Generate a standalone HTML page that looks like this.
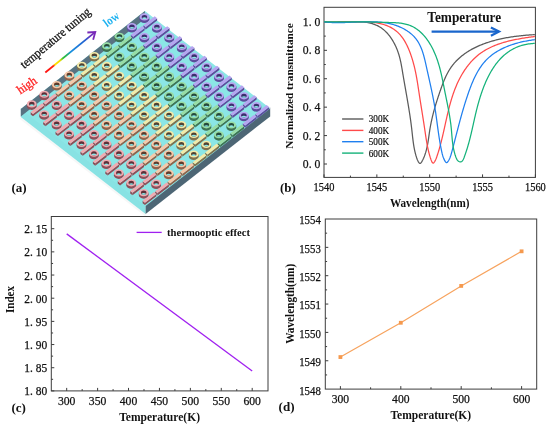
<!DOCTYPE html>
<html><head><meta charset="utf-8"><title>Figure</title>
<style>html,body{margin:0;padding:0;background:#fff;}svg{display:block;}</style></head>
<body><svg width="550" height="428" viewBox="0 0 550 428">
<rect width="550" height="428" fill="#fff"/>
<polygon points="20.8,116.9 145.6,214 145.6,216.5 19.8,118.9" fill="#f6f7f7"/>
<polygon points="20.8,108.1 145.6,205.2 145.6,214 20.8,116.9" fill="#88e2e3"/>
<polygon points="145.6,205.2 270.2,107.6 270.2,116.4 145.6,214" fill="#4d6675"/>
<polygon points="20.8,108.9 144.9,11 270.2,108.4 145.6,206" fill="#8be6e6"/>
<polygon points="20.8,108.9 144.9,11 144.9,18.8 20.8,116.5" fill="#587281"/>
<defs>
<clipPath id="h90"><ellipse cx="144.44" cy="16.94" rx="2.75" ry="2.05"/></clipPath><clipPath id="h80"><ellipse cx="131.92" cy="26.6" rx="2.75" ry="2.05"/></clipPath><clipPath id="h91"><ellipse cx="156.88" cy="26.8" rx="2.75" ry="2.05"/></clipPath><clipPath id="h70"><ellipse cx="119.4" cy="36.26" rx="2.75" ry="2.05"/></clipPath><clipPath id="h81"><ellipse cx="144.36" cy="36.46" rx="2.75" ry="2.05"/></clipPath><clipPath id="h92"><ellipse cx="169.32" cy="36.66" rx="2.75" ry="2.05"/></clipPath><clipPath id="h60"><ellipse cx="106.88" cy="45.93" rx="2.75" ry="2.05"/></clipPath><clipPath id="h71"><ellipse cx="131.84" cy="46.12" rx="2.75" ry="2.05"/></clipPath><clipPath id="h82"><ellipse cx="156.8" cy="46.32" rx="2.75" ry="2.05"/></clipPath><clipPath id="h93"><ellipse cx="181.76" cy="46.52" rx="2.75" ry="2.05"/></clipPath><clipPath id="h50"><ellipse cx="94.35" cy="55.59" rx="2.75" ry="2.05"/></clipPath><clipPath id="h61"><ellipse cx="119.31" cy="55.79" rx="2.75" ry="2.05"/></clipPath><clipPath id="h72"><ellipse cx="144.27" cy="55.98" rx="2.75" ry="2.05"/></clipPath><clipPath id="h83"><ellipse cx="169.24" cy="56.18" rx="2.75" ry="2.05"/></clipPath><clipPath id="h94"><ellipse cx="194.2" cy="56.38" rx="2.75" ry="2.05"/></clipPath><clipPath id="h40"><ellipse cx="81.83" cy="65.25" rx="2.75" ry="2.05"/></clipPath><clipPath id="h51"><ellipse cx="106.79" cy="65.45" rx="2.75" ry="2.05"/></clipPath><clipPath id="h62"><ellipse cx="131.75" cy="65.65" rx="2.75" ry="2.05"/></clipPath><clipPath id="h73"><ellipse cx="156.71" cy="65.84" rx="2.75" ry="2.05"/></clipPath><clipPath id="h84"><ellipse cx="181.67" cy="66.04" rx="2.75" ry="2.05"/></clipPath><clipPath id="h95"><ellipse cx="206.63" cy="66.24" rx="2.75" ry="2.05"/></clipPath><clipPath id="h30"><ellipse cx="69.31" cy="74.91" rx="2.75" ry="2.05"/></clipPath><clipPath id="h41"><ellipse cx="94.27" cy="75.11" rx="2.75" ry="2.05"/></clipPath><clipPath id="h52"><ellipse cx="119.23" cy="75.31" rx="2.75" ry="2.05"/></clipPath><clipPath id="h63"><ellipse cx="144.19" cy="75.51" rx="2.75" ry="2.05"/></clipPath><clipPath id="h74"><ellipse cx="169.15" cy="75.71" rx="2.75" ry="2.05"/></clipPath><clipPath id="h85"><ellipse cx="194.11" cy="75.9" rx="2.75" ry="2.05"/></clipPath><clipPath id="h96"><ellipse cx="219.07" cy="76.1" rx="2.75" ry="2.05"/></clipPath><clipPath id="h20"><ellipse cx="56.79" cy="84.58" rx="2.75" ry="2.05"/></clipPath><clipPath id="h31"><ellipse cx="81.75" cy="84.77" rx="2.75" ry="2.05"/></clipPath><clipPath id="h42"><ellipse cx="106.71" cy="84.97" rx="2.75" ry="2.05"/></clipPath><clipPath id="h53"><ellipse cx="131.67" cy="85.17" rx="2.75" ry="2.05"/></clipPath><clipPath id="h64"><ellipse cx="156.63" cy="85.37" rx="2.75" ry="2.05"/></clipPath><clipPath id="h75"><ellipse cx="181.59" cy="85.57" rx="2.75" ry="2.05"/></clipPath><clipPath id="h86"><ellipse cx="206.55" cy="85.76" rx="2.75" ry="2.05"/></clipPath><clipPath id="h97"><ellipse cx="231.51" cy="85.96" rx="2.75" ry="2.05"/></clipPath><clipPath id="h10"><ellipse cx="44.26" cy="94.24" rx="2.75" ry="2.05"/></clipPath><clipPath id="h21"><ellipse cx="69.22" cy="94.44" rx="2.75" ry="2.05"/></clipPath><clipPath id="h32"><ellipse cx="94.18" cy="94.63" rx="2.75" ry="2.05"/></clipPath><clipPath id="h43"><ellipse cx="119.14" cy="94.83" rx="2.75" ry="2.05"/></clipPath><clipPath id="h54"><ellipse cx="144.11" cy="95.03" rx="2.75" ry="2.05"/></clipPath><clipPath id="h65"><ellipse cx="169.07" cy="95.23" rx="2.75" ry="2.05"/></clipPath><clipPath id="h76"><ellipse cx="194.03" cy="95.43" rx="2.75" ry="2.05"/></clipPath><clipPath id="h87"><ellipse cx="218.99" cy="95.62" rx="2.75" ry="2.05"/></clipPath><clipPath id="h98"><ellipse cx="243.95" cy="95.82" rx="2.75" ry="2.05"/></clipPath><clipPath id="h00"><ellipse cx="31.74" cy="103.9" rx="2.75" ry="2.05"/></clipPath><clipPath id="h11"><ellipse cx="56.7" cy="104.1" rx="2.75" ry="2.05"/></clipPath><clipPath id="h22"><ellipse cx="81.66" cy="104.3" rx="2.75" ry="2.05"/></clipPath><clipPath id="h33"><ellipse cx="106.62" cy="104.49" rx="2.75" ry="2.05"/></clipPath><clipPath id="h44"><ellipse cx="131.58" cy="104.69" rx="2.75" ry="2.05"/></clipPath><clipPath id="h55"><ellipse cx="156.54" cy="104.89" rx="2.75" ry="2.05"/></clipPath><clipPath id="h66"><ellipse cx="181.5" cy="105.09" rx="2.75" ry="2.05"/></clipPath><clipPath id="h77"><ellipse cx="206.46" cy="105.29" rx="2.75" ry="2.05"/></clipPath><clipPath id="h88"><ellipse cx="231.42" cy="105.48" rx="2.75" ry="2.05"/></clipPath><clipPath id="h99"><ellipse cx="256.39" cy="105.68" rx="2.75" ry="2.05"/></clipPath><clipPath id="h01"><ellipse cx="44.18" cy="113.76" rx="2.75" ry="2.05"/></clipPath><clipPath id="h12"><ellipse cx="69.14" cy="113.96" rx="2.75" ry="2.05"/></clipPath><clipPath id="h23"><ellipse cx="94.1" cy="114.16" rx="2.75" ry="2.05"/></clipPath><clipPath id="h34"><ellipse cx="119.06" cy="114.35" rx="2.75" ry="2.05"/></clipPath><clipPath id="h45"><ellipse cx="144.02" cy="114.55" rx="2.75" ry="2.05"/></clipPath><clipPath id="h56"><ellipse cx="168.98" cy="114.75" rx="2.75" ry="2.05"/></clipPath><clipPath id="h67"><ellipse cx="193.94" cy="114.95" rx="2.75" ry="2.05"/></clipPath><clipPath id="h78"><ellipse cx="218.9" cy="115.15" rx="2.75" ry="2.05"/></clipPath><clipPath id="h89"><ellipse cx="243.86" cy="115.35" rx="2.75" ry="2.05"/></clipPath><clipPath id="h02"><ellipse cx="56.62" cy="123.62" rx="2.75" ry="2.05"/></clipPath><clipPath id="h13"><ellipse cx="81.58" cy="123.82" rx="2.75" ry="2.05"/></clipPath><clipPath id="h24"><ellipse cx="106.54" cy="124.02" rx="2.75" ry="2.05"/></clipPath><clipPath id="h35"><ellipse cx="131.5" cy="124.22" rx="2.75" ry="2.05"/></clipPath><clipPath id="h46"><ellipse cx="156.46" cy="124.41" rx="2.75" ry="2.05"/></clipPath><clipPath id="h57"><ellipse cx="181.42" cy="124.61" rx="2.75" ry="2.05"/></clipPath><clipPath id="h68"><ellipse cx="206.38" cy="124.81" rx="2.75" ry="2.05"/></clipPath><clipPath id="h79"><ellipse cx="231.34" cy="125.01" rx="2.75" ry="2.05"/></clipPath><clipPath id="h03"><ellipse cx="69.05" cy="133.48" rx="2.75" ry="2.05"/></clipPath><clipPath id="h14"><ellipse cx="94.01" cy="133.68" rx="2.75" ry="2.05"/></clipPath><clipPath id="h25"><ellipse cx="118.97" cy="133.88" rx="2.75" ry="2.05"/></clipPath><clipPath id="h36"><ellipse cx="143.94" cy="134.08" rx="2.75" ry="2.05"/></clipPath><clipPath id="h47"><ellipse cx="168.9" cy="134.27" rx="2.75" ry="2.05"/></clipPath><clipPath id="h58"><ellipse cx="193.86" cy="134.47" rx="2.75" ry="2.05"/></clipPath><clipPath id="h69"><ellipse cx="218.82" cy="134.67" rx="2.75" ry="2.05"/></clipPath><clipPath id="h04"><ellipse cx="81.49" cy="143.34" rx="2.75" ry="2.05"/></clipPath><clipPath id="h15"><ellipse cx="106.45" cy="143.54" rx="2.75" ry="2.05"/></clipPath><clipPath id="h26"><ellipse cx="131.41" cy="143.74" rx="2.75" ry="2.05"/></clipPath><clipPath id="h37"><ellipse cx="156.37" cy="143.94" rx="2.75" ry="2.05"/></clipPath><clipPath id="h48"><ellipse cx="181.33" cy="144.13" rx="2.75" ry="2.05"/></clipPath><clipPath id="h59"><ellipse cx="206.29" cy="144.33" rx="2.75" ry="2.05"/></clipPath><clipPath id="h05"><ellipse cx="93.93" cy="153.2" rx="2.75" ry="2.05"/></clipPath><clipPath id="h16"><ellipse cx="118.89" cy="153.4" rx="2.75" ry="2.05"/></clipPath><clipPath id="h27"><ellipse cx="143.85" cy="153.6" rx="2.75" ry="2.05"/></clipPath><clipPath id="h38"><ellipse cx="168.81" cy="153.8" rx="2.75" ry="2.05"/></clipPath><clipPath id="h49"><ellipse cx="193.77" cy="153.99" rx="2.75" ry="2.05"/></clipPath><clipPath id="h06"><ellipse cx="106.37" cy="163.06" rx="2.75" ry="2.05"/></clipPath><clipPath id="h17"><ellipse cx="131.33" cy="163.26" rx="2.75" ry="2.05"/></clipPath><clipPath id="h28"><ellipse cx="156.29" cy="163.46" rx="2.75" ry="2.05"/></clipPath><clipPath id="h39"><ellipse cx="181.25" cy="163.66" rx="2.75" ry="2.05"/></clipPath><clipPath id="h07"><ellipse cx="118.81" cy="172.92" rx="2.75" ry="2.05"/></clipPath><clipPath id="h18"><ellipse cx="143.77" cy="173.12" rx="2.75" ry="2.05"/></clipPath><clipPath id="h29"><ellipse cx="168.73" cy="173.32" rx="2.75" ry="2.05"/></clipPath><clipPath id="h08"><ellipse cx="131.24" cy="182.78" rx="2.75" ry="2.05"/></clipPath><clipPath id="h19"><ellipse cx="156.2" cy="182.98" rx="2.75" ry="2.05"/></clipPath><clipPath id="h09"><ellipse cx="143.68" cy="192.64" rx="2.75" ry="2.05"/></clipPath>
</defs>
<ellipse cx="144.44" cy="19.34" rx="4.85" ry="3.6" fill="#5d4c9c"/><rect x="139.59" y="16.94" width="9.7" height="2.4" fill="#5d4c9c"/><ellipse cx="144.44" cy="16.94" rx="4.85" ry="3.6" fill="#b6a4f0"/><ellipse cx="144.44" cy="16.94" rx="2.75" ry="2.05" fill="#3b2f6c"/><ellipse clip-path="url(#h90)" cx="144.44" cy="19.34" rx="2.75" ry="2.05" fill="#8be6e6"/>
<polygon points="145.73,27.01 157.12,18.22 157.12,20.62 145.73,29.41" fill="#5d4c9c"/>
<polygon points="143.36,25.14 145.73,27.01 145.73,29.41 143.36,27.54" fill="#5d4c9c"/>
<polygon points="143.36,25.14 154.76,16.34 157.12,18.22 145.73,27.01" fill="#b6a4f0"/>
<ellipse cx="131.92" cy="29" rx="4.85" ry="3.6" fill="#5d4c9c"/><rect x="127.07" y="26.6" width="9.7" height="2.4" fill="#5d4c9c"/><ellipse cx="131.92" cy="26.6" rx="4.85" ry="3.6" fill="#b6a4f0"/><ellipse cx="131.92" cy="26.6" rx="2.75" ry="2.05" fill="#3b2f6c"/><ellipse clip-path="url(#h80)" cx="131.92" cy="29" rx="2.75" ry="2.05" fill="#8be6e6"/>
<ellipse cx="156.88" cy="29.2" rx="4.85" ry="3.6" fill="#5d4c9c"/><rect x="152.03" y="26.8" width="9.7" height="2.4" fill="#5d4c9c"/><ellipse cx="156.88" cy="26.8" rx="4.85" ry="3.6" fill="#b6a4f0"/><ellipse cx="156.88" cy="26.8" rx="2.75" ry="2.05" fill="#3b2f6c"/><ellipse clip-path="url(#h91)" cx="156.88" cy="29.2" rx="2.75" ry="2.05" fill="#8be6e6"/>
<polygon points="133.2,36.67 144.6,27.88 144.6,30.28 133.2,39.07" fill="#5d4c9c"/>
<polygon points="130.84,34.8 133.2,36.67 133.2,39.07 130.84,37.2" fill="#5d4c9c"/>
<polygon points="130.84,34.8 142.23,26 144.6,27.88 133.2,36.67" fill="#b6a4f0"/>
<polygon points="158.16,36.87 169.56,28.08 169.56,30.48 158.16,39.27" fill="#5d4c9c"/>
<polygon points="155.8,35 158.16,36.87 158.16,39.27 155.8,37.4" fill="#5d4c9c"/>
<polygon points="155.8,35 167.2,26.2 169.56,28.08 158.16,36.87" fill="#b6a4f0"/>
<ellipse cx="119.4" cy="38.66" rx="4.85" ry="3.6" fill="#3f7453"/><rect x="114.55" y="36.26" width="9.7" height="2.4" fill="#3f7453"/><ellipse cx="119.4" cy="36.26" rx="4.85" ry="3.6" fill="#98dda5"/><ellipse cx="119.4" cy="36.26" rx="2.75" ry="2.05" fill="#264a3b"/><ellipse clip-path="url(#h70)" cx="119.4" cy="38.66" rx="2.75" ry="2.05" fill="#8be6e6"/>
<ellipse cx="144.36" cy="38.86" rx="4.85" ry="3.6" fill="#5d4c9c"/><rect x="139.51" y="36.46" width="9.7" height="2.4" fill="#5d4c9c"/><ellipse cx="144.36" cy="36.46" rx="4.85" ry="3.6" fill="#b6a4f0"/><ellipse cx="144.36" cy="36.46" rx="2.75" ry="2.05" fill="#3b2f6c"/><ellipse clip-path="url(#h81)" cx="144.36" cy="38.86" rx="2.75" ry="2.05" fill="#8be6e6"/>
<ellipse cx="169.32" cy="39.06" rx="4.85" ry="3.6" fill="#5d4c9c"/><rect x="164.47" y="36.66" width="9.7" height="2.4" fill="#5d4c9c"/><ellipse cx="169.32" cy="36.66" rx="4.85" ry="3.6" fill="#b6a4f0"/><ellipse cx="169.32" cy="36.66" rx="2.75" ry="2.05" fill="#3b2f6c"/><ellipse clip-path="url(#h92)" cx="169.32" cy="39.06" rx="2.75" ry="2.05" fill="#8be6e6"/>
<polygon points="120.68,46.33 132.08,37.54 132.08,39.94 120.68,48.73" fill="#3f7453"/>
<polygon points="118.32,44.46 120.68,46.33 120.68,48.73 118.32,46.86" fill="#3f7453"/>
<polygon points="118.32,44.46 129.71,35.67 132.08,37.54 120.68,46.33" fill="#98dda5"/>
<polygon points="145.64,46.53 157.04,37.74 157.04,40.14 145.64,48.93" fill="#5d4c9c"/>
<polygon points="143.28,44.66 145.64,46.53 145.64,48.93 143.28,47.06" fill="#5d4c9c"/>
<polygon points="143.28,44.66 154.67,35.87 157.04,37.74 145.64,46.53" fill="#b6a4f0"/>
<polygon points="170.6,46.73 182,37.94 182,40.34 170.6,49.13" fill="#5d4c9c"/>
<polygon points="168.24,44.86 170.6,46.73 170.6,49.13 168.24,47.26" fill="#5d4c9c"/>
<polygon points="168.24,44.86 179.63,36.06 182,37.94 170.6,46.73" fill="#b6a4f0"/>
<ellipse cx="106.88" cy="48.33" rx="4.85" ry="3.6" fill="#3f7453"/><rect x="102.03" y="45.93" width="9.7" height="2.4" fill="#3f7453"/><ellipse cx="106.88" cy="45.93" rx="4.85" ry="3.6" fill="#98dda5"/><ellipse cx="106.88" cy="45.93" rx="2.75" ry="2.05" fill="#264a3b"/><ellipse clip-path="url(#h60)" cx="106.88" cy="48.33" rx="2.75" ry="2.05" fill="#8be6e6"/>
<ellipse cx="131.84" cy="48.52" rx="4.85" ry="3.6" fill="#3f7453"/><rect x="126.99" y="46.12" width="9.7" height="2.4" fill="#3f7453"/><ellipse cx="131.84" cy="46.12" rx="4.85" ry="3.6" fill="#98dda5"/><ellipse cx="131.84" cy="46.12" rx="2.75" ry="2.05" fill="#264a3b"/><ellipse clip-path="url(#h71)" cx="131.84" cy="48.52" rx="2.75" ry="2.05" fill="#8be6e6"/>
<ellipse cx="156.8" cy="48.72" rx="4.85" ry="3.6" fill="#5d4c9c"/><rect x="151.95" y="46.32" width="9.7" height="2.4" fill="#5d4c9c"/><ellipse cx="156.8" cy="46.32" rx="4.85" ry="3.6" fill="#b6a4f0"/><ellipse cx="156.8" cy="46.32" rx="2.75" ry="2.05" fill="#3b2f6c"/><ellipse clip-path="url(#h82)" cx="156.8" cy="48.72" rx="2.75" ry="2.05" fill="#8be6e6"/>
<ellipse cx="181.76" cy="48.92" rx="4.85" ry="3.6" fill="#5d4c9c"/><rect x="176.91" y="46.52" width="9.7" height="2.4" fill="#5d4c9c"/><ellipse cx="181.76" cy="46.52" rx="4.85" ry="3.6" fill="#b6a4f0"/><ellipse cx="181.76" cy="46.52" rx="2.75" ry="2.05" fill="#3b2f6c"/><ellipse clip-path="url(#h93)" cx="181.76" cy="48.92" rx="2.75" ry="2.05" fill="#8be6e6"/>
<polygon points="108.16,56 119.55,47.2 119.55,49.6 108.16,58.4" fill="#3f7453"/>
<polygon points="105.79,54.12 108.16,56 108.16,58.4 105.79,56.52" fill="#3f7453"/>
<polygon points="105.79,54.12 117.19,45.33 119.55,47.2 108.16,56" fill="#98dda5"/>
<polygon points="133.12,56.19 144.51,47.4 144.51,49.8 133.12,58.59" fill="#3f7453"/>
<polygon points="130.75,54.32 133.12,56.19 133.12,58.59 130.75,56.72" fill="#3f7453"/>
<polygon points="130.75,54.32 142.15,45.53 144.51,47.4 133.12,56.19" fill="#98dda5"/>
<polygon points="158.08,56.39 169.47,47.6 169.47,50 158.08,58.79" fill="#5d4c9c"/>
<polygon points="155.72,54.52 158.08,56.39 158.08,58.79 155.72,56.92" fill="#5d4c9c"/>
<polygon points="155.72,54.52 167.11,45.73 169.47,47.6 158.08,56.39" fill="#b6a4f0"/>
<polygon points="183.04,56.59 194.43,47.8 194.43,50.2 183.04,58.99" fill="#5d4c9c"/>
<polygon points="180.68,54.72 183.04,56.59 183.04,58.99 180.68,57.12" fill="#5d4c9c"/>
<polygon points="180.68,54.72 192.07,45.92 194.43,47.8 183.04,56.59" fill="#b6a4f0"/>
<ellipse cx="94.35" cy="57.99" rx="4.85" ry="3.6" fill="#80704c"/><rect x="89.5" y="55.59" width="9.7" height="2.4" fill="#80704c"/><ellipse cx="94.35" cy="55.59" rx="4.85" ry="3.6" fill="#f3eaa9"/><ellipse cx="94.35" cy="55.59" rx="2.75" ry="2.05" fill="#504232"/><ellipse clip-path="url(#h50)" cx="94.35" cy="57.99" rx="2.75" ry="2.05" fill="#8be6e6"/>
<ellipse cx="119.31" cy="58.19" rx="4.85" ry="3.6" fill="#3f7453"/><rect x="114.46" y="55.79" width="9.7" height="2.4" fill="#3f7453"/><ellipse cx="119.31" cy="55.79" rx="4.85" ry="3.6" fill="#98dda5"/><ellipse cx="119.31" cy="55.79" rx="2.75" ry="2.05" fill="#264a3b"/><ellipse clip-path="url(#h61)" cx="119.31" cy="58.19" rx="2.75" ry="2.05" fill="#8be6e6"/>
<ellipse cx="144.27" cy="58.38" rx="4.85" ry="3.6" fill="#3f7453"/><rect x="139.42" y="55.98" width="9.7" height="2.4" fill="#3f7453"/><ellipse cx="144.27" cy="55.98" rx="4.85" ry="3.6" fill="#98dda5"/><ellipse cx="144.27" cy="55.98" rx="2.75" ry="2.05" fill="#264a3b"/><ellipse clip-path="url(#h72)" cx="144.27" cy="58.38" rx="2.75" ry="2.05" fill="#8be6e6"/>
<ellipse cx="169.24" cy="58.58" rx="4.85" ry="3.6" fill="#5d4c9c"/><rect x="164.39" y="56.18" width="9.7" height="2.4" fill="#5d4c9c"/><ellipse cx="169.24" cy="56.18" rx="4.85" ry="3.6" fill="#b6a4f0"/><ellipse cx="169.24" cy="56.18" rx="2.75" ry="2.05" fill="#3b2f6c"/><ellipse clip-path="url(#h83)" cx="169.24" cy="58.58" rx="2.75" ry="2.05" fill="#8be6e6"/>
<ellipse cx="194.2" cy="58.78" rx="4.85" ry="3.6" fill="#5d4c9c"/><rect x="189.35" y="56.38" width="9.7" height="2.4" fill="#5d4c9c"/><ellipse cx="194.2" cy="56.38" rx="4.85" ry="3.6" fill="#b6a4f0"/><ellipse cx="194.2" cy="56.38" rx="2.75" ry="2.05" fill="#3b2f6c"/><ellipse clip-path="url(#h94)" cx="194.2" cy="58.78" rx="2.75" ry="2.05" fill="#8be6e6"/>
<polygon points="95.63,65.66 107.03,56.87 107.03,59.27 95.63,68.06" fill="#80704c"/>
<polygon points="93.27,63.78 95.63,65.66 95.63,68.06 93.27,66.18" fill="#80704c"/>
<polygon points="93.27,63.78 104.67,54.99 107.03,56.87 95.63,65.66" fill="#f3eaa9"/>
<polygon points="120.59,65.86 131.99,57.06 131.99,59.46 120.59,68.26" fill="#3f7453"/>
<polygon points="118.23,63.98 120.59,65.86 120.59,68.26 118.23,66.38" fill="#3f7453"/>
<polygon points="118.23,63.98 129.63,55.19 131.99,57.06 120.59,65.86" fill="#98dda5"/>
<polygon points="145.56,66.05 156.95,57.26 156.95,59.66 145.56,68.45" fill="#3f7453"/>
<polygon points="143.19,64.18 145.56,66.05 145.56,68.45 143.19,66.58" fill="#3f7453"/>
<polygon points="143.19,64.18 154.59,55.39 156.95,57.26 145.56,66.05" fill="#98dda5"/>
<polygon points="170.52,66.25 181.91,57.46 181.91,59.86 170.52,68.65" fill="#5d4c9c"/>
<polygon points="168.15,64.38 170.52,66.25 170.52,68.65 168.15,66.78" fill="#5d4c9c"/>
<polygon points="168.15,64.38 179.55,55.59 181.91,57.46 170.52,66.25" fill="#b6a4f0"/>
<polygon points="195.48,66.45 206.87,57.66 206.87,60.06 195.48,68.85" fill="#5d4c9c"/>
<polygon points="193.11,64.58 195.48,66.45 195.48,68.85 193.11,66.98" fill="#5d4c9c"/>
<polygon points="193.11,64.58 204.51,55.78 206.87,57.66 195.48,66.45" fill="#b6a4f0"/>
<ellipse cx="81.83" cy="67.65" rx="4.85" ry="3.6" fill="#80704c"/><rect x="76.98" y="65.25" width="9.7" height="2.4" fill="#80704c"/><ellipse cx="81.83" cy="65.25" rx="4.85" ry="3.6" fill="#f3eaa9"/><ellipse cx="81.83" cy="65.25" rx="2.75" ry="2.05" fill="#504232"/><ellipse clip-path="url(#h40)" cx="81.83" cy="67.65" rx="2.75" ry="2.05" fill="#8be6e6"/>
<ellipse cx="106.79" cy="67.85" rx="4.85" ry="3.6" fill="#80704c"/><rect x="101.94" y="65.45" width="9.7" height="2.4" fill="#80704c"/><ellipse cx="106.79" cy="65.45" rx="4.85" ry="3.6" fill="#f3eaa9"/><ellipse cx="106.79" cy="65.45" rx="2.75" ry="2.05" fill="#504232"/><ellipse clip-path="url(#h51)" cx="106.79" cy="67.85" rx="2.75" ry="2.05" fill="#8be6e6"/>
<ellipse cx="131.75" cy="68.05" rx="4.85" ry="3.6" fill="#3f7453"/><rect x="126.9" y="65.65" width="9.7" height="2.4" fill="#3f7453"/><ellipse cx="131.75" cy="65.65" rx="4.85" ry="3.6" fill="#98dda5"/><ellipse cx="131.75" cy="65.65" rx="2.75" ry="2.05" fill="#264a3b"/><ellipse clip-path="url(#h62)" cx="131.75" cy="68.05" rx="2.75" ry="2.05" fill="#8be6e6"/>
<ellipse cx="156.71" cy="68.24" rx="4.85" ry="3.6" fill="#3f7453"/><rect x="151.86" y="65.84" width="9.7" height="2.4" fill="#3f7453"/><ellipse cx="156.71" cy="65.84" rx="4.85" ry="3.6" fill="#98dda5"/><ellipse cx="156.71" cy="65.84" rx="2.75" ry="2.05" fill="#264a3b"/><ellipse clip-path="url(#h73)" cx="156.71" cy="68.24" rx="2.75" ry="2.05" fill="#8be6e6"/>
<ellipse cx="181.67" cy="68.44" rx="4.85" ry="3.6" fill="#5d4c9c"/><rect x="176.82" y="66.04" width="9.7" height="2.4" fill="#5d4c9c"/><ellipse cx="181.67" cy="66.04" rx="4.85" ry="3.6" fill="#b6a4f0"/><ellipse cx="181.67" cy="66.04" rx="2.75" ry="2.05" fill="#3b2f6c"/><ellipse clip-path="url(#h84)" cx="181.67" cy="68.44" rx="2.75" ry="2.05" fill="#8be6e6"/>
<ellipse cx="206.63" cy="68.64" rx="4.85" ry="3.6" fill="#5d4c9c"/><rect x="201.78" y="66.24" width="9.7" height="2.4" fill="#5d4c9c"/><ellipse cx="206.63" cy="66.24" rx="4.85" ry="3.6" fill="#b6a4f0"/><ellipse cx="206.63" cy="66.24" rx="2.75" ry="2.05" fill="#3b2f6c"/><ellipse clip-path="url(#h95)" cx="206.63" cy="68.64" rx="2.75" ry="2.05" fill="#8be6e6"/>
<polygon points="83.11,75.32 94.51,66.53 94.51,68.93 83.11,77.72" fill="#80704c"/>
<polygon points="80.75,73.45 83.11,75.32 83.11,77.72 80.75,75.85" fill="#80704c"/>
<polygon points="80.75,73.45 92.14,64.65 94.51,66.53 83.11,75.32" fill="#f3eaa9"/>
<polygon points="108.07,75.52 119.47,66.73 119.47,69.13 108.07,77.92" fill="#80704c"/>
<polygon points="105.71,73.65 108.07,75.52 108.07,77.92 105.71,76.05" fill="#80704c"/>
<polygon points="105.71,73.65 117.1,64.85 119.47,66.73 108.07,75.52" fill="#f3eaa9"/>
<polygon points="133.03,75.72 144.43,66.92 144.43,69.32 133.03,78.12" fill="#3f7453"/>
<polygon points="130.67,73.84 133.03,75.72 133.03,78.12 130.67,76.24" fill="#3f7453"/>
<polygon points="130.67,73.84 142.07,65.05 144.43,66.92 133.03,75.72" fill="#98dda5"/>
<polygon points="157.99,75.92 169.39,67.12 169.39,69.52 157.99,78.32" fill="#3f7453"/>
<polygon points="155.63,74.04 157.99,75.92 157.99,78.32 155.63,76.44" fill="#3f7453"/>
<polygon points="155.63,74.04 167.03,65.25 169.39,67.12 157.99,75.92" fill="#98dda5"/>
<polygon points="182.95,76.11 194.35,67.32 194.35,69.72 182.95,78.51" fill="#5d4c9c"/>
<polygon points="180.59,74.24 182.95,76.11 182.95,78.51 180.59,76.64" fill="#5d4c9c"/>
<polygon points="180.59,74.24 191.99,65.45 194.35,67.32 182.95,76.11" fill="#b6a4f0"/>
<polygon points="207.91,76.31 219.31,67.52 219.31,69.92 207.91,78.71" fill="#5d4c9c"/>
<polygon points="205.55,74.44 207.91,76.31 207.91,78.71 205.55,76.84" fill="#5d4c9c"/>
<polygon points="205.55,74.44 216.95,65.64 219.31,67.52 207.91,76.31" fill="#b6a4f0"/>
<ellipse cx="69.31" cy="77.31" rx="4.85" ry="3.6" fill="#91624a"/><rect x="64.46" y="74.91" width="9.7" height="2.4" fill="#91624a"/><ellipse cx="69.31" cy="74.91" rx="4.85" ry="3.6" fill="#f6c8a9"/><ellipse cx="69.31" cy="74.91" rx="2.75" ry="2.05" fill="#5e3c2c"/><ellipse clip-path="url(#h30)" cx="69.31" cy="77.31" rx="2.75" ry="2.05" fill="#8be6e6"/>
<ellipse cx="94.27" cy="77.51" rx="4.85" ry="3.6" fill="#80704c"/><rect x="89.42" y="75.11" width="9.7" height="2.4" fill="#80704c"/><ellipse cx="94.27" cy="75.11" rx="4.85" ry="3.6" fill="#f3eaa9"/><ellipse cx="94.27" cy="75.11" rx="2.75" ry="2.05" fill="#504232"/><ellipse clip-path="url(#h41)" cx="94.27" cy="77.51" rx="2.75" ry="2.05" fill="#8be6e6"/>
<ellipse cx="119.23" cy="77.71" rx="4.85" ry="3.6" fill="#80704c"/><rect x="114.38" y="75.31" width="9.7" height="2.4" fill="#80704c"/><ellipse cx="119.23" cy="75.31" rx="4.85" ry="3.6" fill="#f3eaa9"/><ellipse cx="119.23" cy="75.31" rx="2.75" ry="2.05" fill="#504232"/><ellipse clip-path="url(#h52)" cx="119.23" cy="77.71" rx="2.75" ry="2.05" fill="#8be6e6"/>
<ellipse cx="144.19" cy="77.91" rx="4.85" ry="3.6" fill="#3f7453"/><rect x="139.34" y="75.51" width="9.7" height="2.4" fill="#3f7453"/><ellipse cx="144.19" cy="75.51" rx="4.85" ry="3.6" fill="#98dda5"/><ellipse cx="144.19" cy="75.51" rx="2.75" ry="2.05" fill="#264a3b"/><ellipse clip-path="url(#h63)" cx="144.19" cy="77.91" rx="2.75" ry="2.05" fill="#8be6e6"/>
<ellipse cx="169.15" cy="78.11" rx="4.85" ry="3.6" fill="#3f7453"/><rect x="164.3" y="75.71" width="9.7" height="2.4" fill="#3f7453"/><ellipse cx="169.15" cy="75.71" rx="4.85" ry="3.6" fill="#98dda5"/><ellipse cx="169.15" cy="75.71" rx="2.75" ry="2.05" fill="#264a3b"/><ellipse clip-path="url(#h74)" cx="169.15" cy="78.11" rx="2.75" ry="2.05" fill="#8be6e6"/>
<ellipse cx="194.11" cy="78.3" rx="4.85" ry="3.6" fill="#5d4c9c"/><rect x="189.26" y="75.9" width="9.7" height="2.4" fill="#5d4c9c"/><ellipse cx="194.11" cy="75.9" rx="4.85" ry="3.6" fill="#b6a4f0"/><ellipse cx="194.11" cy="75.9" rx="2.75" ry="2.05" fill="#3b2f6c"/><ellipse clip-path="url(#h85)" cx="194.11" cy="78.3" rx="2.75" ry="2.05" fill="#8be6e6"/>
<ellipse cx="219.07" cy="78.5" rx="4.85" ry="3.6" fill="#5d4c9c"/><rect x="214.22" y="76.1" width="9.7" height="2.4" fill="#5d4c9c"/><ellipse cx="219.07" cy="76.1" rx="4.85" ry="3.6" fill="#b6a4f0"/><ellipse cx="219.07" cy="76.1" rx="2.75" ry="2.05" fill="#3b2f6c"/><ellipse clip-path="url(#h96)" cx="219.07" cy="78.5" rx="2.75" ry="2.05" fill="#8be6e6"/>
<polygon points="70.59,84.98 81.98,76.19 81.98,78.59 70.59,87.38" fill="#91624a"/>
<polygon points="68.23,83.11 70.59,84.98 70.59,87.38 68.23,85.51" fill="#91624a"/>
<polygon points="68.23,83.11 79.62,74.32 81.98,76.19 70.59,84.98" fill="#f6c8a9"/>
<polygon points="95.55,85.18 106.95,76.39 106.95,78.79 95.55,87.58" fill="#80704c"/>
<polygon points="93.19,83.31 95.55,85.18 95.55,87.58 93.19,85.71" fill="#80704c"/>
<polygon points="93.19,83.31 104.58,74.51 106.95,76.39 95.55,85.18" fill="#f3eaa9"/>
<polygon points="120.51,85.38 131.91,76.59 131.91,78.99 120.51,87.78" fill="#80704c"/>
<polygon points="118.15,83.51 120.51,85.38 120.51,87.78 118.15,85.91" fill="#80704c"/>
<polygon points="118.15,83.51 129.54,74.71 131.91,76.59 120.51,85.38" fill="#f3eaa9"/>
<polygon points="145.47,85.58 156.87,76.78 156.87,79.18 145.47,87.98" fill="#3f7453"/>
<polygon points="143.11,83.7 145.47,85.58 145.47,87.98 143.11,86.1" fill="#3f7453"/>
<polygon points="143.11,83.7 154.5,74.91 156.87,76.78 145.47,85.58" fill="#98dda5"/>
<polygon points="170.43,85.78 181.83,76.98 181.83,79.38 170.43,88.18" fill="#3f7453"/>
<polygon points="168.07,83.9 170.43,85.78 170.43,88.18 168.07,86.3" fill="#3f7453"/>
<polygon points="168.07,83.9 179.46,75.11 181.83,76.98 170.43,85.78" fill="#98dda5"/>
<polygon points="195.39,85.97 206.79,77.18 206.79,79.58 195.39,88.37" fill="#5d4c9c"/>
<polygon points="193.03,84.1 195.39,85.97 195.39,88.37 193.03,86.5" fill="#5d4c9c"/>
<polygon points="193.03,84.1 204.42,75.31 206.79,77.18 195.39,85.97" fill="#b6a4f0"/>
<polygon points="220.35,86.17 231.75,77.38 231.75,79.78 220.35,88.57" fill="#5d4c9c"/>
<polygon points="217.99,84.3 220.35,86.17 220.35,88.57 217.99,86.7" fill="#5d4c9c"/>
<polygon points="217.99,84.3 229.38,75.51 231.75,77.38 220.35,86.17" fill="#b6a4f0"/>
<ellipse cx="56.79" cy="86.98" rx="4.85" ry="3.6" fill="#91624a"/><rect x="51.94" y="84.58" width="9.7" height="2.4" fill="#91624a"/><ellipse cx="56.79" cy="84.58" rx="4.85" ry="3.6" fill="#f6c8a9"/><ellipse cx="56.79" cy="84.58" rx="2.75" ry="2.05" fill="#5e3c2c"/><ellipse clip-path="url(#h20)" cx="56.79" cy="86.98" rx="2.75" ry="2.05" fill="#8be6e6"/>
<ellipse cx="81.75" cy="87.17" rx="4.85" ry="3.6" fill="#91624a"/><rect x="76.9" y="84.77" width="9.7" height="2.4" fill="#91624a"/><ellipse cx="81.75" cy="84.77" rx="4.85" ry="3.6" fill="#f6c8a9"/><ellipse cx="81.75" cy="84.77" rx="2.75" ry="2.05" fill="#5e3c2c"/><ellipse clip-path="url(#h31)" cx="81.75" cy="87.17" rx="2.75" ry="2.05" fill="#8be6e6"/>
<ellipse cx="106.71" cy="87.37" rx="4.85" ry="3.6" fill="#80704c"/><rect x="101.86" y="84.97" width="9.7" height="2.4" fill="#80704c"/><ellipse cx="106.71" cy="84.97" rx="4.85" ry="3.6" fill="#f3eaa9"/><ellipse cx="106.71" cy="84.97" rx="2.75" ry="2.05" fill="#504232"/><ellipse clip-path="url(#h42)" cx="106.71" cy="87.37" rx="2.75" ry="2.05" fill="#8be6e6"/>
<ellipse cx="131.67" cy="87.57" rx="4.85" ry="3.6" fill="#80704c"/><rect x="126.82" y="85.17" width="9.7" height="2.4" fill="#80704c"/><ellipse cx="131.67" cy="85.17" rx="4.85" ry="3.6" fill="#f3eaa9"/><ellipse cx="131.67" cy="85.17" rx="2.75" ry="2.05" fill="#504232"/><ellipse clip-path="url(#h53)" cx="131.67" cy="87.57" rx="2.75" ry="2.05" fill="#8be6e6"/>
<ellipse cx="156.63" cy="87.77" rx="4.85" ry="3.6" fill="#3f7453"/><rect x="151.78" y="85.37" width="9.7" height="2.4" fill="#3f7453"/><ellipse cx="156.63" cy="85.37" rx="4.85" ry="3.6" fill="#98dda5"/><ellipse cx="156.63" cy="85.37" rx="2.75" ry="2.05" fill="#264a3b"/><ellipse clip-path="url(#h64)" cx="156.63" cy="87.77" rx="2.75" ry="2.05" fill="#8be6e6"/>
<ellipse cx="181.59" cy="87.97" rx="4.85" ry="3.6" fill="#3f7453"/><rect x="176.74" y="85.57" width="9.7" height="2.4" fill="#3f7453"/><ellipse cx="181.59" cy="85.57" rx="4.85" ry="3.6" fill="#98dda5"/><ellipse cx="181.59" cy="85.57" rx="2.75" ry="2.05" fill="#264a3b"/><ellipse clip-path="url(#h75)" cx="181.59" cy="87.97" rx="2.75" ry="2.05" fill="#8be6e6"/>
<ellipse cx="206.55" cy="88.16" rx="4.85" ry="3.6" fill="#5d4c9c"/><rect x="201.7" y="85.76" width="9.7" height="2.4" fill="#5d4c9c"/><ellipse cx="206.55" cy="85.76" rx="4.85" ry="3.6" fill="#b6a4f0"/><ellipse cx="206.55" cy="85.76" rx="2.75" ry="2.05" fill="#3b2f6c"/><ellipse clip-path="url(#h86)" cx="206.55" cy="88.16" rx="2.75" ry="2.05" fill="#8be6e6"/>
<ellipse cx="231.51" cy="88.36" rx="4.85" ry="3.6" fill="#5d4c9c"/><rect x="226.66" y="85.96" width="9.7" height="2.4" fill="#5d4c9c"/><ellipse cx="231.51" cy="85.96" rx="4.85" ry="3.6" fill="#b6a4f0"/><ellipse cx="231.51" cy="85.96" rx="2.75" ry="2.05" fill="#3b2f6c"/><ellipse clip-path="url(#h97)" cx="231.51" cy="88.36" rx="2.75" ry="2.05" fill="#8be6e6"/>
<polygon points="58.07,94.65 69.46,85.85 69.46,88.25 58.07,97.05" fill="#91624a"/>
<polygon points="55.7,92.77 58.07,94.65 58.07,97.05 55.7,95.17" fill="#91624a"/>
<polygon points="55.7,92.77 67.1,83.98 69.46,85.85 58.07,94.65" fill="#f6c8a9"/>
<polygon points="83.03,94.84 94.42,86.05 94.42,88.45 83.03,97.24" fill="#91624a"/>
<polygon points="80.66,92.97 83.03,94.84 83.03,97.24 80.66,95.37" fill="#91624a"/>
<polygon points="80.66,92.97 92.06,84.18 94.42,86.05 83.03,94.84" fill="#f6c8a9"/>
<polygon points="107.99,95.04 119.38,86.25 119.38,88.65 107.99,97.44" fill="#80704c"/>
<polygon points="105.62,93.17 107.99,95.04 107.99,97.44 105.62,95.57" fill="#80704c"/>
<polygon points="105.62,93.17 117.02,84.38 119.38,86.25 107.99,95.04" fill="#f3eaa9"/>
<polygon points="132.95,95.24 144.34,86.45 144.34,88.85 132.95,97.64" fill="#80704c"/>
<polygon points="130.58,93.37 132.95,95.24 132.95,97.64 130.58,95.77" fill="#80704c"/>
<polygon points="130.58,93.37 141.98,84.57 144.34,86.45 132.95,95.24" fill="#f3eaa9"/>
<polygon points="157.91,95.44 169.3,86.65 169.3,89.05 157.91,97.84" fill="#3f7453"/>
<polygon points="155.55,93.56 157.91,95.44 157.91,97.84 155.55,95.96" fill="#3f7453"/>
<polygon points="155.55,93.56 166.94,84.77 169.3,86.65 157.91,95.44" fill="#98dda5"/>
<polygon points="182.87,95.64 194.26,86.84 194.26,89.24 182.87,98.04" fill="#3f7453"/>
<polygon points="180.51,93.76 182.87,95.64 182.87,98.04 180.51,96.16" fill="#3f7453"/>
<polygon points="180.51,93.76 191.9,84.97 194.26,86.84 182.87,95.64" fill="#98dda5"/>
<polygon points="207.83,95.83 219.23,87.04 219.23,89.44 207.83,98.23" fill="#5d4c9c"/>
<polygon points="205.47,93.96 207.83,95.83 207.83,98.23 205.47,96.36" fill="#5d4c9c"/>
<polygon points="205.47,93.96 216.86,85.17 219.23,87.04 207.83,95.83" fill="#b6a4f0"/>
<polygon points="232.79,96.03 244.19,87.24 244.19,89.64 232.79,98.43" fill="#5d4c9c"/>
<polygon points="230.43,94.16 232.79,96.03 232.79,98.43 230.43,96.56" fill="#5d4c9c"/>
<polygon points="230.43,94.16 241.82,85.37 244.19,87.24 232.79,96.03" fill="#b6a4f0"/>
<ellipse cx="44.26" cy="96.64" rx="4.85" ry="3.6" fill="#8e4e58"/><rect x="39.41" y="94.24" width="9.7" height="2.4" fill="#8e4e58"/><ellipse cx="44.26" cy="94.24" rx="4.85" ry="3.6" fill="#f0abb1"/><ellipse cx="44.26" cy="94.24" rx="2.75" ry="2.05" fill="#5c3038"/><ellipse clip-path="url(#h10)" cx="44.26" cy="96.64" rx="2.75" ry="2.05" fill="#8be6e6"/>
<ellipse cx="69.22" cy="96.84" rx="4.85" ry="3.6" fill="#91624a"/><rect x="64.37" y="94.44" width="9.7" height="2.4" fill="#91624a"/><ellipse cx="69.22" cy="94.44" rx="4.85" ry="3.6" fill="#f6c8a9"/><ellipse cx="69.22" cy="94.44" rx="2.75" ry="2.05" fill="#5e3c2c"/><ellipse clip-path="url(#h21)" cx="69.22" cy="96.84" rx="2.75" ry="2.05" fill="#8be6e6"/>
<ellipse cx="94.18" cy="97.03" rx="4.85" ry="3.6" fill="#91624a"/><rect x="89.33" y="94.63" width="9.7" height="2.4" fill="#91624a"/><ellipse cx="94.18" cy="94.63" rx="4.85" ry="3.6" fill="#f6c8a9"/><ellipse cx="94.18" cy="94.63" rx="2.75" ry="2.05" fill="#5e3c2c"/><ellipse clip-path="url(#h32)" cx="94.18" cy="97.03" rx="2.75" ry="2.05" fill="#8be6e6"/>
<ellipse cx="119.14" cy="97.23" rx="4.85" ry="3.6" fill="#80704c"/><rect x="114.29" y="94.83" width="9.7" height="2.4" fill="#80704c"/><ellipse cx="119.14" cy="94.83" rx="4.85" ry="3.6" fill="#f3eaa9"/><ellipse cx="119.14" cy="94.83" rx="2.75" ry="2.05" fill="#504232"/><ellipse clip-path="url(#h43)" cx="119.14" cy="97.23" rx="2.75" ry="2.05" fill="#8be6e6"/>
<ellipse cx="144.11" cy="97.43" rx="4.85" ry="3.6" fill="#80704c"/><rect x="139.26" y="95.03" width="9.7" height="2.4" fill="#80704c"/><ellipse cx="144.11" cy="95.03" rx="4.85" ry="3.6" fill="#f3eaa9"/><ellipse cx="144.11" cy="95.03" rx="2.75" ry="2.05" fill="#504232"/><ellipse clip-path="url(#h54)" cx="144.11" cy="97.43" rx="2.75" ry="2.05" fill="#8be6e6"/>
<ellipse cx="169.07" cy="97.63" rx="4.85" ry="3.6" fill="#3f7453"/><rect x="164.22" y="95.23" width="9.7" height="2.4" fill="#3f7453"/><ellipse cx="169.07" cy="95.23" rx="4.85" ry="3.6" fill="#98dda5"/><ellipse cx="169.07" cy="95.23" rx="2.75" ry="2.05" fill="#264a3b"/><ellipse clip-path="url(#h65)" cx="169.07" cy="97.63" rx="2.75" ry="2.05" fill="#8be6e6"/>
<ellipse cx="194.03" cy="97.83" rx="4.85" ry="3.6" fill="#3f7453"/><rect x="189.18" y="95.43" width="9.7" height="2.4" fill="#3f7453"/><ellipse cx="194.03" cy="95.43" rx="4.85" ry="3.6" fill="#98dda5"/><ellipse cx="194.03" cy="95.43" rx="2.75" ry="2.05" fill="#264a3b"/><ellipse clip-path="url(#h76)" cx="194.03" cy="97.83" rx="2.75" ry="2.05" fill="#8be6e6"/>
<ellipse cx="218.99" cy="98.02" rx="4.85" ry="3.6" fill="#5d4c9c"/><rect x="214.14" y="95.62" width="9.7" height="2.4" fill="#5d4c9c"/><ellipse cx="218.99" cy="95.62" rx="4.85" ry="3.6" fill="#b6a4f0"/><ellipse cx="218.99" cy="95.62" rx="2.75" ry="2.05" fill="#3b2f6c"/><ellipse clip-path="url(#h87)" cx="218.99" cy="98.02" rx="2.75" ry="2.05" fill="#8be6e6"/>
<ellipse cx="243.95" cy="98.22" rx="4.85" ry="3.6" fill="#5d4c9c"/><rect x="239.1" y="95.82" width="9.7" height="2.4" fill="#5d4c9c"/><ellipse cx="243.95" cy="95.82" rx="4.85" ry="3.6" fill="#b6a4f0"/><ellipse cx="243.95" cy="95.82" rx="2.75" ry="2.05" fill="#3b2f6c"/><ellipse clip-path="url(#h98)" cx="243.95" cy="98.22" rx="2.75" ry="2.05" fill="#8be6e6"/>
<polygon points="45.54,104.31 56.94,95.52 56.94,97.92 45.54,106.71" fill="#8e4e58"/>
<polygon points="43.18,102.43 45.54,104.31 45.54,106.71 43.18,104.83" fill="#8e4e58"/>
<polygon points="43.18,102.43 54.58,93.64 56.94,95.52 45.54,104.31" fill="#f0abb1"/>
<polygon points="70.5,104.51 81.9,95.71 81.9,98.11 70.5,106.91" fill="#91624a"/>
<polygon points="68.14,102.63 70.5,104.51 70.5,106.91 68.14,105.03" fill="#91624a"/>
<polygon points="68.14,102.63 79.54,93.84 81.9,95.71 70.5,104.51" fill="#f6c8a9"/>
<polygon points="95.46,104.7 106.86,95.91 106.86,98.31 95.46,107.1" fill="#91624a"/>
<polygon points="93.1,102.83 95.46,104.7 95.46,107.1 93.1,105.23" fill="#91624a"/>
<polygon points="93.1,102.83 104.5,94.04 106.86,95.91 95.46,104.7" fill="#f6c8a9"/>
<polygon points="120.43,104.9 131.82,96.11 131.82,98.51 120.43,107.3" fill="#80704c"/>
<polygon points="118.06,103.03 120.43,104.9 120.43,107.3 118.06,105.43" fill="#80704c"/>
<polygon points="118.06,103.03 129.46,94.24 131.82,96.11 120.43,104.9" fill="#f3eaa9"/>
<polygon points="145.39,105.1 156.78,96.31 156.78,98.71 145.39,107.5" fill="#80704c"/>
<polygon points="143.02,103.23 145.39,105.1 145.39,107.5 143.02,105.63" fill="#80704c"/>
<polygon points="143.02,103.23 154.42,94.43 156.78,96.31 145.39,105.1" fill="#f3eaa9"/>
<polygon points="170.35,105.3 181.74,96.51 181.74,98.91 170.35,107.7" fill="#3f7453"/>
<polygon points="167.98,103.42 170.35,105.3 170.35,107.7 167.98,105.82" fill="#3f7453"/>
<polygon points="167.98,103.42 179.38,94.63 181.74,96.51 170.35,105.3" fill="#98dda5"/>
<polygon points="195.31,105.5 206.7,96.7 206.7,99.1 195.31,107.9" fill="#3f7453"/>
<polygon points="192.94,103.62 195.31,105.5 195.31,107.9 192.94,106.02" fill="#3f7453"/>
<polygon points="192.94,103.62 204.34,94.83 206.7,96.7 195.31,105.5" fill="#98dda5"/>
<polygon points="220.27,105.69 231.66,96.9 231.66,99.3 220.27,108.09" fill="#5d4c9c"/>
<polygon points="217.9,103.82 220.27,105.69 220.27,108.09 217.9,106.22" fill="#5d4c9c"/>
<polygon points="217.9,103.82 229.3,95.03 231.66,96.9 220.27,105.69" fill="#b6a4f0"/>
<polygon points="245.23,105.89 256.62,97.1 256.62,99.5 245.23,108.29" fill="#5d4c9c"/>
<polygon points="242.87,104.02 245.23,105.89 245.23,108.29 242.87,106.42" fill="#5d4c9c"/>
<polygon points="242.87,104.02 254.26,95.23 256.62,97.1 245.23,105.89" fill="#b6a4f0"/>
<ellipse cx="31.74" cy="106.3" rx="4.85" ry="3.6" fill="#8e4e58"/><rect x="26.89" y="103.9" width="9.7" height="2.4" fill="#8e4e58"/><ellipse cx="31.74" cy="103.9" rx="4.85" ry="3.6" fill="#f0abb1"/><ellipse cx="31.74" cy="103.9" rx="2.75" ry="2.05" fill="#5c3038"/><ellipse clip-path="url(#h00)" cx="31.74" cy="106.3" rx="2.75" ry="2.05" fill="#8be6e6"/>
<ellipse cx="56.7" cy="106.5" rx="4.85" ry="3.6" fill="#8e4e58"/><rect x="51.85" y="104.1" width="9.7" height="2.4" fill="#8e4e58"/><ellipse cx="56.7" cy="104.1" rx="4.85" ry="3.6" fill="#f0abb1"/><ellipse cx="56.7" cy="104.1" rx="2.75" ry="2.05" fill="#5c3038"/><ellipse clip-path="url(#h11)" cx="56.7" cy="106.5" rx="2.75" ry="2.05" fill="#8be6e6"/>
<ellipse cx="81.66" cy="106.7" rx="4.85" ry="3.6" fill="#91624a"/><rect x="76.81" y="104.3" width="9.7" height="2.4" fill="#91624a"/><ellipse cx="81.66" cy="104.3" rx="4.85" ry="3.6" fill="#f6c8a9"/><ellipse cx="81.66" cy="104.3" rx="2.75" ry="2.05" fill="#5e3c2c"/><ellipse clip-path="url(#h22)" cx="81.66" cy="106.7" rx="2.75" ry="2.05" fill="#8be6e6"/>
<ellipse cx="106.62" cy="106.89" rx="4.85" ry="3.6" fill="#91624a"/><rect x="101.77" y="104.49" width="9.7" height="2.4" fill="#91624a"/><ellipse cx="106.62" cy="104.49" rx="4.85" ry="3.6" fill="#f6c8a9"/><ellipse cx="106.62" cy="104.49" rx="2.75" ry="2.05" fill="#5e3c2c"/><ellipse clip-path="url(#h33)" cx="106.62" cy="106.89" rx="2.75" ry="2.05" fill="#8be6e6"/>
<ellipse cx="131.58" cy="107.09" rx="4.85" ry="3.6" fill="#80704c"/><rect x="126.73" y="104.69" width="9.7" height="2.4" fill="#80704c"/><ellipse cx="131.58" cy="104.69" rx="4.85" ry="3.6" fill="#f3eaa9"/><ellipse cx="131.58" cy="104.69" rx="2.75" ry="2.05" fill="#504232"/><ellipse clip-path="url(#h44)" cx="131.58" cy="107.09" rx="2.75" ry="2.05" fill="#8be6e6"/>
<ellipse cx="156.54" cy="107.29" rx="4.85" ry="3.6" fill="#80704c"/><rect x="151.69" y="104.89" width="9.7" height="2.4" fill="#80704c"/><ellipse cx="156.54" cy="104.89" rx="4.85" ry="3.6" fill="#f3eaa9"/><ellipse cx="156.54" cy="104.89" rx="2.75" ry="2.05" fill="#504232"/><ellipse clip-path="url(#h55)" cx="156.54" cy="107.29" rx="2.75" ry="2.05" fill="#8be6e6"/>
<ellipse cx="181.5" cy="107.49" rx="4.85" ry="3.6" fill="#3f7453"/><rect x="176.65" y="105.09" width="9.7" height="2.4" fill="#3f7453"/><ellipse cx="181.5" cy="105.09" rx="4.85" ry="3.6" fill="#98dda5"/><ellipse cx="181.5" cy="105.09" rx="2.75" ry="2.05" fill="#264a3b"/><ellipse clip-path="url(#h66)" cx="181.5" cy="107.49" rx="2.75" ry="2.05" fill="#8be6e6"/>
<ellipse cx="206.46" cy="107.69" rx="4.85" ry="3.6" fill="#3f7453"/><rect x="201.61" y="105.29" width="9.7" height="2.4" fill="#3f7453"/><ellipse cx="206.46" cy="105.29" rx="4.85" ry="3.6" fill="#98dda5"/><ellipse cx="206.46" cy="105.29" rx="2.75" ry="2.05" fill="#264a3b"/><ellipse clip-path="url(#h77)" cx="206.46" cy="107.69" rx="2.75" ry="2.05" fill="#8be6e6"/>
<ellipse cx="231.42" cy="107.88" rx="4.85" ry="3.6" fill="#5d4c9c"/><rect x="226.57" y="105.48" width="9.7" height="2.4" fill="#5d4c9c"/><ellipse cx="231.42" cy="105.48" rx="4.85" ry="3.6" fill="#b6a4f0"/><ellipse cx="231.42" cy="105.48" rx="2.75" ry="2.05" fill="#3b2f6c"/><ellipse clip-path="url(#h88)" cx="231.42" cy="107.88" rx="2.75" ry="2.05" fill="#8be6e6"/>
<ellipse cx="256.39" cy="108.08" rx="4.85" ry="3.6" fill="#5d4c9c"/><rect x="251.54" y="105.68" width="9.7" height="2.4" fill="#5d4c9c"/><ellipse cx="256.39" cy="105.68" rx="4.85" ry="3.6" fill="#b6a4f0"/><ellipse cx="256.39" cy="105.68" rx="2.75" ry="2.05" fill="#3b2f6c"/><ellipse clip-path="url(#h99)" cx="256.39" cy="108.08" rx="2.75" ry="2.05" fill="#8be6e6"/>
<polygon points="33.02,113.97 44.42,105.18 44.42,107.58 33.02,116.37" fill="#8e4e58"/>
<polygon points="30.66,112.1 33.02,113.97 33.02,116.37 30.66,114.5" fill="#8e4e58"/>
<polygon points="30.66,112.1 42.05,103.3 44.42,105.18 33.02,113.97" fill="#f0abb1"/>
<polygon points="57.98,114.17 69.38,105.38 69.38,107.78 57.98,116.57" fill="#8e4e58"/>
<polygon points="55.62,112.29 57.98,114.17 57.98,116.57 55.62,114.69" fill="#8e4e58"/>
<polygon points="55.62,112.29 67.01,103.5 69.38,105.38 57.98,114.17" fill="#f0abb1"/>
<polygon points="82.94,114.37 94.34,105.57 94.34,107.97 82.94,116.77" fill="#91624a"/>
<polygon points="80.58,112.49 82.94,114.37 82.94,116.77 80.58,114.89" fill="#91624a"/>
<polygon points="80.58,112.49 91.97,103.7 94.34,105.57 82.94,114.37" fill="#f6c8a9"/>
<polygon points="107.9,114.56 119.3,105.77 119.3,108.17 107.9,116.96" fill="#91624a"/>
<polygon points="105.54,112.69 107.9,114.56 107.9,116.96 105.54,115.09" fill="#91624a"/>
<polygon points="105.54,112.69 116.94,103.9 119.3,105.77 107.9,114.56" fill="#f6c8a9"/>
<polygon points="132.86,114.76 144.26,105.97 144.26,108.37 132.86,117.16" fill="#80704c"/>
<polygon points="130.5,112.89 132.86,114.76 132.86,117.16 130.5,115.29" fill="#80704c"/>
<polygon points="130.5,112.89 141.9,104.1 144.26,105.97 132.86,114.76" fill="#f3eaa9"/>
<polygon points="157.82,114.96 169.22,106.17 169.22,108.57 157.82,117.36" fill="#80704c"/>
<polygon points="155.46,113.09 157.82,114.96 157.82,117.36 155.46,115.49" fill="#80704c"/>
<polygon points="155.46,113.09 166.86,104.29 169.22,106.17 157.82,114.96" fill="#f3eaa9"/>
<polygon points="182.78,115.16 194.18,106.37 194.18,108.77 182.78,117.56" fill="#3f7453"/>
<polygon points="180.42,113.29 182.78,115.16 182.78,117.56 180.42,115.69" fill="#3f7453"/>
<polygon points="180.42,113.29 191.82,104.49 194.18,106.37 182.78,115.16" fill="#98dda5"/>
<polygon points="207.75,115.36 219.14,106.56 219.14,108.96 207.75,117.76" fill="#3f7453"/>
<polygon points="205.38,113.48 207.75,115.36 207.75,117.76 205.38,115.88" fill="#3f7453"/>
<polygon points="205.38,113.48 216.78,104.69 219.14,106.56 207.75,115.36" fill="#98dda5"/>
<polygon points="232.71,115.56 244.1,106.76 244.1,109.16 232.71,117.96" fill="#5d4c9c"/>
<polygon points="230.34,113.68 232.71,115.56 232.71,117.96 230.34,116.08" fill="#5d4c9c"/>
<polygon points="230.34,113.68 241.74,104.89 244.1,106.76 232.71,115.56" fill="#b6a4f0"/>
<polygon points="257.67,115.75 269.06,106.96 269.06,109.36 257.67,118.15" fill="#5d4c9c"/>
<polygon points="255.3,113.88 257.67,115.75 257.67,118.15 255.3,116.28" fill="#5d4c9c"/>
<polygon points="255.3,113.88 266.7,105.09 269.06,106.96 257.67,115.75" fill="#b6a4f0"/>
<ellipse cx="44.18" cy="116.16" rx="4.85" ry="3.6" fill="#8e4e58"/><rect x="39.33" y="113.76" width="9.7" height="2.4" fill="#8e4e58"/><ellipse cx="44.18" cy="113.76" rx="4.85" ry="3.6" fill="#f0abb1"/><ellipse cx="44.18" cy="113.76" rx="2.75" ry="2.05" fill="#5c3038"/><ellipse clip-path="url(#h01)" cx="44.18" cy="116.16" rx="2.75" ry="2.05" fill="#8be6e6"/>
<ellipse cx="69.14" cy="116.36" rx="4.85" ry="3.6" fill="#8e4e58"/><rect x="64.29" y="113.96" width="9.7" height="2.4" fill="#8e4e58"/><ellipse cx="69.14" cy="113.96" rx="4.85" ry="3.6" fill="#f0abb1"/><ellipse cx="69.14" cy="113.96" rx="2.75" ry="2.05" fill="#5c3038"/><ellipse clip-path="url(#h12)" cx="69.14" cy="116.36" rx="2.75" ry="2.05" fill="#8be6e6"/>
<ellipse cx="94.1" cy="116.56" rx="4.85" ry="3.6" fill="#91624a"/><rect x="89.25" y="114.16" width="9.7" height="2.4" fill="#91624a"/><ellipse cx="94.1" cy="114.16" rx="4.85" ry="3.6" fill="#f6c8a9"/><ellipse cx="94.1" cy="114.16" rx="2.75" ry="2.05" fill="#5e3c2c"/><ellipse clip-path="url(#h23)" cx="94.1" cy="116.56" rx="2.75" ry="2.05" fill="#8be6e6"/>
<ellipse cx="119.06" cy="116.75" rx="4.85" ry="3.6" fill="#91624a"/><rect x="114.21" y="114.35" width="9.7" height="2.4" fill="#91624a"/><ellipse cx="119.06" cy="114.35" rx="4.85" ry="3.6" fill="#f6c8a9"/><ellipse cx="119.06" cy="114.35" rx="2.75" ry="2.05" fill="#5e3c2c"/><ellipse clip-path="url(#h34)" cx="119.06" cy="116.75" rx="2.75" ry="2.05" fill="#8be6e6"/>
<ellipse cx="144.02" cy="116.95" rx="4.85" ry="3.6" fill="#80704c"/><rect x="139.17" y="114.55" width="9.7" height="2.4" fill="#80704c"/><ellipse cx="144.02" cy="114.55" rx="4.85" ry="3.6" fill="#f3eaa9"/><ellipse cx="144.02" cy="114.55" rx="2.75" ry="2.05" fill="#504232"/><ellipse clip-path="url(#h45)" cx="144.02" cy="116.95" rx="2.75" ry="2.05" fill="#8be6e6"/>
<ellipse cx="168.98" cy="117.15" rx="4.85" ry="3.6" fill="#80704c"/><rect x="164.13" y="114.75" width="9.7" height="2.4" fill="#80704c"/><ellipse cx="168.98" cy="114.75" rx="4.85" ry="3.6" fill="#f3eaa9"/><ellipse cx="168.98" cy="114.75" rx="2.75" ry="2.05" fill="#504232"/><ellipse clip-path="url(#h56)" cx="168.98" cy="117.15" rx="2.75" ry="2.05" fill="#8be6e6"/>
<ellipse cx="193.94" cy="117.35" rx="4.85" ry="3.6" fill="#3f7453"/><rect x="189.09" y="114.95" width="9.7" height="2.4" fill="#3f7453"/><ellipse cx="193.94" cy="114.95" rx="4.85" ry="3.6" fill="#98dda5"/><ellipse cx="193.94" cy="114.95" rx="2.75" ry="2.05" fill="#264a3b"/><ellipse clip-path="url(#h67)" cx="193.94" cy="117.35" rx="2.75" ry="2.05" fill="#8be6e6"/>
<ellipse cx="218.9" cy="117.55" rx="4.85" ry="3.6" fill="#3f7453"/><rect x="214.05" y="115.15" width="9.7" height="2.4" fill="#3f7453"/><ellipse cx="218.9" cy="115.15" rx="4.85" ry="3.6" fill="#98dda5"/><ellipse cx="218.9" cy="115.15" rx="2.75" ry="2.05" fill="#264a3b"/><ellipse clip-path="url(#h78)" cx="218.9" cy="117.55" rx="2.75" ry="2.05" fill="#8be6e6"/>
<ellipse cx="243.86" cy="117.75" rx="4.85" ry="3.6" fill="#5d4c9c"/><rect x="239.01" y="115.35" width="9.7" height="2.4" fill="#5d4c9c"/><ellipse cx="243.86" cy="115.35" rx="4.85" ry="3.6" fill="#b6a4f0"/><ellipse cx="243.86" cy="115.35" rx="2.75" ry="2.05" fill="#3b2f6c"/><ellipse clip-path="url(#h89)" cx="243.86" cy="117.75" rx="2.75" ry="2.05" fill="#8be6e6"/>
<polygon points="45.46,123.83 56.85,115.04 56.85,117.44 45.46,126.23" fill="#8e4e58"/>
<polygon points="43.1,121.96 45.46,123.83 45.46,126.23 43.1,124.36" fill="#8e4e58"/>
<polygon points="43.1,121.96 54.49,113.16 56.85,115.04 45.46,123.83" fill="#f0abb1"/>
<polygon points="70.42,124.03 81.81,115.24 81.81,117.64 70.42,126.43" fill="#8e4e58"/>
<polygon points="68.06,122.16 70.42,124.03 70.42,126.43 68.06,124.56" fill="#8e4e58"/>
<polygon points="68.06,122.16 79.45,113.36 81.81,115.24 70.42,124.03" fill="#f0abb1"/>
<polygon points="95.38,124.23 106.78,115.43 106.78,117.83 95.38,126.63" fill="#91624a"/>
<polygon points="93.02,122.35 95.38,124.23 95.38,126.63 93.02,124.75" fill="#91624a"/>
<polygon points="93.02,122.35 104.41,113.56 106.78,115.43 95.38,124.23" fill="#f6c8a9"/>
<polygon points="120.34,124.43 131.74,115.63 131.74,118.03 120.34,126.83" fill="#91624a"/>
<polygon points="117.98,122.55 120.34,124.43 120.34,126.83 117.98,124.95" fill="#91624a"/>
<polygon points="117.98,122.55 129.37,113.76 131.74,115.63 120.34,124.43" fill="#f6c8a9"/>
<polygon points="145.3,124.62 156.7,115.83 156.7,118.23 145.3,127.02" fill="#80704c"/>
<polygon points="142.94,122.75 145.3,124.62 145.3,127.02 142.94,125.15" fill="#80704c"/>
<polygon points="142.94,122.75 154.33,113.96 156.7,115.83 145.3,124.62" fill="#f3eaa9"/>
<polygon points="170.26,124.82 181.66,116.03 181.66,118.43 170.26,127.22" fill="#80704c"/>
<polygon points="167.9,122.95 170.26,124.82 170.26,127.22 167.9,125.35" fill="#80704c"/>
<polygon points="167.9,122.95 179.29,114.16 181.66,116.03 170.26,124.82" fill="#f3eaa9"/>
<polygon points="195.22,125.02 206.62,116.23 206.62,118.63 195.22,127.42" fill="#3f7453"/>
<polygon points="192.86,123.15 195.22,125.02 195.22,127.42 192.86,125.55" fill="#3f7453"/>
<polygon points="192.86,123.15 204.25,114.35 206.62,116.23 195.22,125.02" fill="#98dda5"/>
<polygon points="220.18,125.22 231.58,116.42 231.58,118.82 220.18,127.62" fill="#3f7453"/>
<polygon points="217.82,123.34 220.18,125.22 220.18,127.62 217.82,125.74" fill="#3f7453"/>
<polygon points="217.82,123.34 229.22,114.55 231.58,116.42 220.18,125.22" fill="#98dda5"/>
<polygon points="245.14,125.42 256.54,116.62 256.54,119.02 245.14,127.82" fill="#5d4c9c"/>
<polygon points="242.78,123.54 245.14,125.42 245.14,127.82 242.78,125.94" fill="#5d4c9c"/>
<polygon points="242.78,123.54 254.18,114.75 256.54,116.62 245.14,125.42" fill="#b6a4f0"/>
<ellipse cx="56.62" cy="126.02" rx="4.85" ry="3.6" fill="#8e4e58"/><rect x="51.77" y="123.62" width="9.7" height="2.4" fill="#8e4e58"/><ellipse cx="56.62" cy="123.62" rx="4.85" ry="3.6" fill="#f0abb1"/><ellipse cx="56.62" cy="123.62" rx="2.75" ry="2.05" fill="#5c3038"/><ellipse clip-path="url(#h02)" cx="56.62" cy="126.02" rx="2.75" ry="2.05" fill="#8be6e6"/>
<ellipse cx="81.58" cy="126.22" rx="4.85" ry="3.6" fill="#8e4e58"/><rect x="76.73" y="123.82" width="9.7" height="2.4" fill="#8e4e58"/><ellipse cx="81.58" cy="123.82" rx="4.85" ry="3.6" fill="#f0abb1"/><ellipse cx="81.58" cy="123.82" rx="2.75" ry="2.05" fill="#5c3038"/><ellipse clip-path="url(#h13)" cx="81.58" cy="126.22" rx="2.75" ry="2.05" fill="#8be6e6"/>
<ellipse cx="106.54" cy="126.42" rx="4.85" ry="3.6" fill="#91624a"/><rect x="101.69" y="124.02" width="9.7" height="2.4" fill="#91624a"/><ellipse cx="106.54" cy="124.02" rx="4.85" ry="3.6" fill="#f6c8a9"/><ellipse cx="106.54" cy="124.02" rx="2.75" ry="2.05" fill="#5e3c2c"/><ellipse clip-path="url(#h24)" cx="106.54" cy="126.42" rx="2.75" ry="2.05" fill="#8be6e6"/>
<ellipse cx="131.5" cy="126.62" rx="4.85" ry="3.6" fill="#91624a"/><rect x="126.65" y="124.22" width="9.7" height="2.4" fill="#91624a"/><ellipse cx="131.5" cy="124.22" rx="4.85" ry="3.6" fill="#f6c8a9"/><ellipse cx="131.5" cy="124.22" rx="2.75" ry="2.05" fill="#5e3c2c"/><ellipse clip-path="url(#h35)" cx="131.5" cy="126.62" rx="2.75" ry="2.05" fill="#8be6e6"/>
<ellipse cx="156.46" cy="126.81" rx="4.85" ry="3.6" fill="#80704c"/><rect x="151.61" y="124.41" width="9.7" height="2.4" fill="#80704c"/><ellipse cx="156.46" cy="124.41" rx="4.85" ry="3.6" fill="#f3eaa9"/><ellipse cx="156.46" cy="124.41" rx="2.75" ry="2.05" fill="#504232"/><ellipse clip-path="url(#h46)" cx="156.46" cy="126.81" rx="2.75" ry="2.05" fill="#8be6e6"/>
<ellipse cx="181.42" cy="127.01" rx="4.85" ry="3.6" fill="#80704c"/><rect x="176.57" y="124.61" width="9.7" height="2.4" fill="#80704c"/><ellipse cx="181.42" cy="124.61" rx="4.85" ry="3.6" fill="#f3eaa9"/><ellipse cx="181.42" cy="124.61" rx="2.75" ry="2.05" fill="#504232"/><ellipse clip-path="url(#h57)" cx="181.42" cy="127.01" rx="2.75" ry="2.05" fill="#8be6e6"/>
<ellipse cx="206.38" cy="127.21" rx="4.85" ry="3.6" fill="#3f7453"/><rect x="201.53" y="124.81" width="9.7" height="2.4" fill="#3f7453"/><ellipse cx="206.38" cy="124.81" rx="4.85" ry="3.6" fill="#98dda5"/><ellipse cx="206.38" cy="124.81" rx="2.75" ry="2.05" fill="#264a3b"/><ellipse clip-path="url(#h68)" cx="206.38" cy="127.21" rx="2.75" ry="2.05" fill="#8be6e6"/>
<ellipse cx="231.34" cy="127.41" rx="4.85" ry="3.6" fill="#3f7453"/><rect x="226.49" y="125.01" width="9.7" height="2.4" fill="#3f7453"/><ellipse cx="231.34" cy="125.01" rx="4.85" ry="3.6" fill="#98dda5"/><ellipse cx="231.34" cy="125.01" rx="2.75" ry="2.05" fill="#264a3b"/><ellipse clip-path="url(#h79)" cx="231.34" cy="127.41" rx="2.75" ry="2.05" fill="#8be6e6"/>
<polygon points="57.9,133.69 69.29,124.9 69.29,127.3 57.9,136.09" fill="#8e4e58"/>
<polygon points="55.53,131.82 57.9,133.69 57.9,136.09 55.53,134.22" fill="#8e4e58"/>
<polygon points="55.53,131.82 66.93,123.03 69.29,124.9 57.9,133.69" fill="#f0abb1"/>
<polygon points="82.86,133.89 94.25,125.1 94.25,127.5 82.86,136.29" fill="#8e4e58"/>
<polygon points="80.49,132.02 82.86,133.89 82.86,136.29 80.49,134.42" fill="#8e4e58"/>
<polygon points="80.49,132.02 91.89,123.22 94.25,125.1 82.86,133.89" fill="#f0abb1"/>
<polygon points="107.82,134.09 119.21,125.29 119.21,127.69 107.82,136.49" fill="#91624a"/>
<polygon points="105.45,132.21 107.82,134.09 107.82,136.49 105.45,134.61" fill="#91624a"/>
<polygon points="105.45,132.21 116.85,123.42 119.21,125.29 107.82,134.09" fill="#f6c8a9"/>
<polygon points="132.78,134.29 144.17,125.49 144.17,127.89 132.78,136.69" fill="#91624a"/>
<polygon points="130.42,132.41 132.78,134.29 132.78,136.69 130.42,134.81" fill="#91624a"/>
<polygon points="130.42,132.41 141.81,123.62 144.17,125.49 132.78,134.29" fill="#f6c8a9"/>
<polygon points="157.74,134.48 169.13,125.69 169.13,128.09 157.74,136.88" fill="#80704c"/>
<polygon points="155.38,132.61 157.74,134.48 157.74,136.88 155.38,135.01" fill="#80704c"/>
<polygon points="155.38,132.61 166.77,123.82 169.13,125.69 157.74,134.48" fill="#f3eaa9"/>
<polygon points="182.7,134.68 194.1,125.89 194.1,128.29 182.7,137.08" fill="#80704c"/>
<polygon points="180.34,132.81 182.7,134.68 182.7,137.08 180.34,135.21" fill="#80704c"/>
<polygon points="180.34,132.81 191.73,124.02 194.1,125.89 182.7,134.68" fill="#f3eaa9"/>
<polygon points="207.66,134.88 219.06,126.09 219.06,128.49 207.66,137.28" fill="#3f7453"/>
<polygon points="205.3,133.01 207.66,134.88 207.66,137.28 205.3,135.41" fill="#3f7453"/>
<polygon points="205.3,133.01 216.69,124.21 219.06,126.09 207.66,134.88" fill="#98dda5"/>
<polygon points="232.62,135.08 244.02,126.29 244.02,128.69 232.62,137.48" fill="#3f7453"/>
<polygon points="230.26,133.2 232.62,135.08 232.62,137.48 230.26,135.6" fill="#3f7453"/>
<polygon points="230.26,133.2 241.65,124.41 244.02,126.29 232.62,135.08" fill="#98dda5"/>
<ellipse cx="69.05" cy="135.88" rx="4.85" ry="3.6" fill="#8e4e58"/><rect x="64.2" y="133.48" width="9.7" height="2.4" fill="#8e4e58"/><ellipse cx="69.05" cy="133.48" rx="4.85" ry="3.6" fill="#f0abb1"/><ellipse cx="69.05" cy="133.48" rx="2.75" ry="2.05" fill="#5c3038"/><ellipse clip-path="url(#h03)" cx="69.05" cy="135.88" rx="2.75" ry="2.05" fill="#8be6e6"/>
<ellipse cx="94.01" cy="136.08" rx="4.85" ry="3.6" fill="#8e4e58"/><rect x="89.16" y="133.68" width="9.7" height="2.4" fill="#8e4e58"/><ellipse cx="94.01" cy="133.68" rx="4.85" ry="3.6" fill="#f0abb1"/><ellipse cx="94.01" cy="133.68" rx="2.75" ry="2.05" fill="#5c3038"/><ellipse clip-path="url(#h14)" cx="94.01" cy="136.08" rx="2.75" ry="2.05" fill="#8be6e6"/>
<ellipse cx="118.97" cy="136.28" rx="4.85" ry="3.6" fill="#91624a"/><rect x="114.12" y="133.88" width="9.7" height="2.4" fill="#91624a"/><ellipse cx="118.97" cy="133.88" rx="4.85" ry="3.6" fill="#f6c8a9"/><ellipse cx="118.97" cy="133.88" rx="2.75" ry="2.05" fill="#5e3c2c"/><ellipse clip-path="url(#h25)" cx="118.97" cy="136.28" rx="2.75" ry="2.05" fill="#8be6e6"/>
<ellipse cx="143.94" cy="136.48" rx="4.85" ry="3.6" fill="#91624a"/><rect x="139.09" y="134.08" width="9.7" height="2.4" fill="#91624a"/><ellipse cx="143.94" cy="134.08" rx="4.85" ry="3.6" fill="#f6c8a9"/><ellipse cx="143.94" cy="134.08" rx="2.75" ry="2.05" fill="#5e3c2c"/><ellipse clip-path="url(#h36)" cx="143.94" cy="136.48" rx="2.75" ry="2.05" fill="#8be6e6"/>
<ellipse cx="168.9" cy="136.67" rx="4.85" ry="3.6" fill="#80704c"/><rect x="164.05" y="134.27" width="9.7" height="2.4" fill="#80704c"/><ellipse cx="168.9" cy="134.27" rx="4.85" ry="3.6" fill="#f3eaa9"/><ellipse cx="168.9" cy="134.27" rx="2.75" ry="2.05" fill="#504232"/><ellipse clip-path="url(#h47)" cx="168.9" cy="136.67" rx="2.75" ry="2.05" fill="#8be6e6"/>
<ellipse cx="193.86" cy="136.87" rx="4.85" ry="3.6" fill="#80704c"/><rect x="189.01" y="134.47" width="9.7" height="2.4" fill="#80704c"/><ellipse cx="193.86" cy="134.47" rx="4.85" ry="3.6" fill="#f3eaa9"/><ellipse cx="193.86" cy="134.47" rx="2.75" ry="2.05" fill="#504232"/><ellipse clip-path="url(#h58)" cx="193.86" cy="136.87" rx="2.75" ry="2.05" fill="#8be6e6"/>
<ellipse cx="218.82" cy="137.07" rx="4.85" ry="3.6" fill="#3f7453"/><rect x="213.97" y="134.67" width="9.7" height="2.4" fill="#3f7453"/><ellipse cx="218.82" cy="134.67" rx="4.85" ry="3.6" fill="#98dda5"/><ellipse cx="218.82" cy="134.67" rx="2.75" ry="2.05" fill="#264a3b"/><ellipse clip-path="url(#h69)" cx="218.82" cy="137.07" rx="2.75" ry="2.05" fill="#8be6e6"/>
<polygon points="70.33,143.55 81.73,134.76 81.73,137.16 70.33,145.95" fill="#8e4e58"/>
<polygon points="67.97,141.68 70.33,143.55 70.33,145.95 67.97,144.08" fill="#8e4e58"/>
<polygon points="67.97,141.68 79.37,132.89 81.73,134.76 70.33,143.55" fill="#f0abb1"/>
<polygon points="95.3,143.75 106.69,134.96 106.69,137.36 95.3,146.15" fill="#8e4e58"/>
<polygon points="92.93,141.88 95.3,143.75 95.3,146.15 92.93,144.28" fill="#8e4e58"/>
<polygon points="92.93,141.88 104.33,133.08 106.69,134.96 95.3,143.75" fill="#f0abb1"/>
<polygon points="120.26,143.95 131.65,135.16 131.65,137.56 120.26,146.35" fill="#91624a"/>
<polygon points="117.89,142.07 120.26,143.95 120.26,146.35 117.89,144.47" fill="#91624a"/>
<polygon points="117.89,142.07 129.29,133.28 131.65,135.16 120.26,143.95" fill="#f6c8a9"/>
<polygon points="145.22,144.15 156.61,135.35 156.61,137.75 145.22,146.55" fill="#91624a"/>
<polygon points="142.85,142.27 145.22,144.15 145.22,146.55 142.85,144.67" fill="#91624a"/>
<polygon points="142.85,142.27 154.25,133.48 156.61,135.35 145.22,144.15" fill="#f6c8a9"/>
<polygon points="170.18,144.34 181.57,135.55 181.57,137.95 170.18,146.74" fill="#80704c"/>
<polygon points="167.81,142.47 170.18,144.34 170.18,146.74 167.81,144.87" fill="#80704c"/>
<polygon points="167.81,142.47 179.21,133.68 181.57,135.55 170.18,144.34" fill="#f3eaa9"/>
<polygon points="195.14,144.54 206.53,135.75 206.53,138.15 195.14,146.94" fill="#80704c"/>
<polygon points="192.77,142.67 195.14,144.54 195.14,146.94 192.77,145.07" fill="#80704c"/>
<polygon points="192.77,142.67 204.17,133.88 206.53,135.75 195.14,144.54" fill="#f3eaa9"/>
<polygon points="220.1,144.74 231.49,135.95 231.49,138.35 220.1,147.14" fill="#3f7453"/>
<polygon points="217.73,142.87 220.1,144.74 220.1,147.14 217.73,145.27" fill="#3f7453"/>
<polygon points="217.73,142.87 229.13,134.07 231.49,135.95 220.1,144.74" fill="#98dda5"/>
<ellipse cx="81.49" cy="145.74" rx="4.85" ry="3.6" fill="#8e4e58"/><rect x="76.64" y="143.34" width="9.7" height="2.4" fill="#8e4e58"/><ellipse cx="81.49" cy="143.34" rx="4.85" ry="3.6" fill="#f0abb1"/><ellipse cx="81.49" cy="143.34" rx="2.75" ry="2.05" fill="#5c3038"/><ellipse clip-path="url(#h04)" cx="81.49" cy="145.74" rx="2.75" ry="2.05" fill="#8be6e6"/>
<ellipse cx="106.45" cy="145.94" rx="4.85" ry="3.6" fill="#8e4e58"/><rect x="101.6" y="143.54" width="9.7" height="2.4" fill="#8e4e58"/><ellipse cx="106.45" cy="143.54" rx="4.85" ry="3.6" fill="#f0abb1"/><ellipse cx="106.45" cy="143.54" rx="2.75" ry="2.05" fill="#5c3038"/><ellipse clip-path="url(#h15)" cx="106.45" cy="145.94" rx="2.75" ry="2.05" fill="#8be6e6"/>
<ellipse cx="131.41" cy="146.14" rx="4.85" ry="3.6" fill="#91624a"/><rect x="126.56" y="143.74" width="9.7" height="2.4" fill="#91624a"/><ellipse cx="131.41" cy="143.74" rx="4.85" ry="3.6" fill="#f6c8a9"/><ellipse cx="131.41" cy="143.74" rx="2.75" ry="2.05" fill="#5e3c2c"/><ellipse clip-path="url(#h26)" cx="131.41" cy="146.14" rx="2.75" ry="2.05" fill="#8be6e6"/>
<ellipse cx="156.37" cy="146.34" rx="4.85" ry="3.6" fill="#91624a"/><rect x="151.52" y="143.94" width="9.7" height="2.4" fill="#91624a"/><ellipse cx="156.37" cy="143.94" rx="4.85" ry="3.6" fill="#f6c8a9"/><ellipse cx="156.37" cy="143.94" rx="2.75" ry="2.05" fill="#5e3c2c"/><ellipse clip-path="url(#h37)" cx="156.37" cy="146.34" rx="2.75" ry="2.05" fill="#8be6e6"/>
<ellipse cx="181.33" cy="146.53" rx="4.85" ry="3.6" fill="#80704c"/><rect x="176.48" y="144.13" width="9.7" height="2.4" fill="#80704c"/><ellipse cx="181.33" cy="144.13" rx="4.85" ry="3.6" fill="#f3eaa9"/><ellipse cx="181.33" cy="144.13" rx="2.75" ry="2.05" fill="#504232"/><ellipse clip-path="url(#h48)" cx="181.33" cy="146.53" rx="2.75" ry="2.05" fill="#8be6e6"/>
<ellipse cx="206.29" cy="146.73" rx="4.85" ry="3.6" fill="#80704c"/><rect x="201.44" y="144.33" width="9.7" height="2.4" fill="#80704c"/><ellipse cx="206.29" cy="144.33" rx="4.85" ry="3.6" fill="#f3eaa9"/><ellipse cx="206.29" cy="144.33" rx="2.75" ry="2.05" fill="#504232"/><ellipse clip-path="url(#h59)" cx="206.29" cy="146.73" rx="2.75" ry="2.05" fill="#8be6e6"/>
<polygon points="82.77,153.41 94.17,144.62 94.17,147.02 82.77,155.81" fill="#8e4e58"/>
<polygon points="80.41,151.54 82.77,153.41 82.77,155.81 80.41,153.94" fill="#8e4e58"/>
<polygon points="80.41,151.54 91.8,142.75 94.17,144.62 82.77,153.41" fill="#f0abb1"/>
<polygon points="107.73,153.61 119.13,144.82 119.13,147.22 107.73,156.01" fill="#8e4e58"/>
<polygon points="105.37,151.74 107.73,153.61 107.73,156.01 105.37,154.14" fill="#8e4e58"/>
<polygon points="105.37,151.74 116.77,142.94 119.13,144.82 107.73,153.61" fill="#f0abb1"/>
<polygon points="132.69,153.81 144.09,145.02 144.09,147.42 132.69,156.21" fill="#91624a"/>
<polygon points="130.33,151.94 132.69,153.81 132.69,156.21 130.33,154.34" fill="#91624a"/>
<polygon points="130.33,151.94 141.73,143.14 144.09,145.02 132.69,153.81" fill="#f6c8a9"/>
<polygon points="157.65,154.01 169.05,145.21 169.05,147.61 157.65,156.41" fill="#91624a"/>
<polygon points="155.29,152.13 157.65,154.01 157.65,156.41 155.29,154.53" fill="#91624a"/>
<polygon points="155.29,152.13 166.69,143.34 169.05,145.21 157.65,154.01" fill="#f6c8a9"/>
<polygon points="182.61,154.2 194.01,145.41 194.01,147.81 182.61,156.6" fill="#80704c"/>
<polygon points="180.25,152.33 182.61,154.2 182.61,156.6 180.25,154.73" fill="#80704c"/>
<polygon points="180.25,152.33 191.65,143.54 194.01,145.41 182.61,154.2" fill="#f3eaa9"/>
<polygon points="207.58,154.4 218.97,145.61 218.97,148.01 207.58,156.8" fill="#80704c"/>
<polygon points="205.21,152.53 207.58,154.4 207.58,156.8 205.21,154.93" fill="#80704c"/>
<polygon points="205.21,152.53 216.61,143.74 218.97,145.61 207.58,154.4" fill="#f3eaa9"/>
<ellipse cx="93.93" cy="155.6" rx="4.85" ry="3.6" fill="#8e4e58"/><rect x="89.08" y="153.2" width="9.7" height="2.4" fill="#8e4e58"/><ellipse cx="93.93" cy="153.2" rx="4.85" ry="3.6" fill="#f0abb1"/><ellipse cx="93.93" cy="153.2" rx="2.75" ry="2.05" fill="#5c3038"/><ellipse clip-path="url(#h05)" cx="93.93" cy="155.6" rx="2.75" ry="2.05" fill="#8be6e6"/>
<ellipse cx="118.89" cy="155.8" rx="4.85" ry="3.6" fill="#8e4e58"/><rect x="114.04" y="153.4" width="9.7" height="2.4" fill="#8e4e58"/><ellipse cx="118.89" cy="153.4" rx="4.85" ry="3.6" fill="#f0abb1"/><ellipse cx="118.89" cy="153.4" rx="2.75" ry="2.05" fill="#5c3038"/><ellipse clip-path="url(#h16)" cx="118.89" cy="155.8" rx="2.75" ry="2.05" fill="#8be6e6"/>
<ellipse cx="143.85" cy="156" rx="4.85" ry="3.6" fill="#91624a"/><rect x="139" y="153.6" width="9.7" height="2.4" fill="#91624a"/><ellipse cx="143.85" cy="153.6" rx="4.85" ry="3.6" fill="#f6c8a9"/><ellipse cx="143.85" cy="153.6" rx="2.75" ry="2.05" fill="#5e3c2c"/><ellipse clip-path="url(#h27)" cx="143.85" cy="156" rx="2.75" ry="2.05" fill="#8be6e6"/>
<ellipse cx="168.81" cy="156.2" rx="4.85" ry="3.6" fill="#91624a"/><rect x="163.96" y="153.8" width="9.7" height="2.4" fill="#91624a"/><ellipse cx="168.81" cy="153.8" rx="4.85" ry="3.6" fill="#f6c8a9"/><ellipse cx="168.81" cy="153.8" rx="2.75" ry="2.05" fill="#5e3c2c"/><ellipse clip-path="url(#h38)" cx="168.81" cy="156.2" rx="2.75" ry="2.05" fill="#8be6e6"/>
<ellipse cx="193.77" cy="156.39" rx="4.85" ry="3.6" fill="#80704c"/><rect x="188.92" y="153.99" width="9.7" height="2.4" fill="#80704c"/><ellipse cx="193.77" cy="153.99" rx="4.85" ry="3.6" fill="#f3eaa9"/><ellipse cx="193.77" cy="153.99" rx="2.75" ry="2.05" fill="#504232"/><ellipse clip-path="url(#h49)" cx="193.77" cy="156.39" rx="2.75" ry="2.05" fill="#8be6e6"/>
<polygon points="95.21,163.27 106.61,154.48 106.61,156.88 95.21,165.67" fill="#8e4e58"/>
<polygon points="92.85,161.4 95.21,163.27 95.21,165.67 92.85,163.8" fill="#8e4e58"/>
<polygon points="92.85,161.4 104.24,152.61 106.61,154.48 95.21,163.27" fill="#f0abb1"/>
<polygon points="120.17,163.47 131.57,154.68 131.57,157.08 120.17,165.87" fill="#8e4e58"/>
<polygon points="117.81,161.6 120.17,163.47 120.17,165.87 117.81,164" fill="#8e4e58"/>
<polygon points="117.81,161.6 129.2,152.8 131.57,154.68 120.17,163.47" fill="#f0abb1"/>
<polygon points="145.13,163.67 156.53,154.88 156.53,157.28 145.13,166.07" fill="#91624a"/>
<polygon points="142.77,161.8 145.13,163.67 145.13,166.07 142.77,164.2" fill="#91624a"/>
<polygon points="142.77,161.8 154.16,153 156.53,154.88 145.13,163.67" fill="#f6c8a9"/>
<polygon points="170.09,163.87 181.49,155.07 181.49,157.47 170.09,166.27" fill="#91624a"/>
<polygon points="167.73,161.99 170.09,163.87 170.09,166.27 167.73,164.39" fill="#91624a"/>
<polygon points="167.73,161.99 179.12,153.2 181.49,155.07 170.09,163.87" fill="#f6c8a9"/>
<polygon points="195.05,164.07 206.45,155.27 206.45,157.67 195.05,166.47" fill="#80704c"/>
<polygon points="192.69,162.19 195.05,164.07 195.05,166.47 192.69,164.59" fill="#80704c"/>
<polygon points="192.69,162.19 204.09,153.4 206.45,155.27 195.05,164.07" fill="#f3eaa9"/>
<ellipse cx="106.37" cy="165.46" rx="4.85" ry="3.6" fill="#8e4e58"/><rect x="101.52" y="163.06" width="9.7" height="2.4" fill="#8e4e58"/><ellipse cx="106.37" cy="163.06" rx="4.85" ry="3.6" fill="#f0abb1"/><ellipse cx="106.37" cy="163.06" rx="2.75" ry="2.05" fill="#5c3038"/><ellipse clip-path="url(#h06)" cx="106.37" cy="165.46" rx="2.75" ry="2.05" fill="#8be6e6"/>
<ellipse cx="131.33" cy="165.66" rx="4.85" ry="3.6" fill="#8e4e58"/><rect x="126.48" y="163.26" width="9.7" height="2.4" fill="#8e4e58"/><ellipse cx="131.33" cy="163.26" rx="4.85" ry="3.6" fill="#f0abb1"/><ellipse cx="131.33" cy="163.26" rx="2.75" ry="2.05" fill="#5c3038"/><ellipse clip-path="url(#h17)" cx="131.33" cy="165.66" rx="2.75" ry="2.05" fill="#8be6e6"/>
<ellipse cx="156.29" cy="165.86" rx="4.85" ry="3.6" fill="#91624a"/><rect x="151.44" y="163.46" width="9.7" height="2.4" fill="#91624a"/><ellipse cx="156.29" cy="163.46" rx="4.85" ry="3.6" fill="#f6c8a9"/><ellipse cx="156.29" cy="163.46" rx="2.75" ry="2.05" fill="#5e3c2c"/><ellipse clip-path="url(#h28)" cx="156.29" cy="165.86" rx="2.75" ry="2.05" fill="#8be6e6"/>
<ellipse cx="181.25" cy="166.06" rx="4.85" ry="3.6" fill="#91624a"/><rect x="176.4" y="163.66" width="9.7" height="2.4" fill="#91624a"/><ellipse cx="181.25" cy="163.66" rx="4.85" ry="3.6" fill="#f6c8a9"/><ellipse cx="181.25" cy="163.66" rx="2.75" ry="2.05" fill="#5e3c2c"/><ellipse clip-path="url(#h39)" cx="181.25" cy="166.06" rx="2.75" ry="2.05" fill="#8be6e6"/>
<polygon points="107.65,173.13 119.04,164.34 119.04,166.74 107.65,175.53" fill="#8e4e58"/>
<polygon points="105.29,171.26 107.65,173.13 107.65,175.53 105.29,173.66" fill="#8e4e58"/>
<polygon points="105.29,171.26 116.68,162.47 119.04,164.34 107.65,173.13" fill="#f0abb1"/>
<polygon points="132.61,173.33 144,164.54 144,166.94 132.61,175.73" fill="#8e4e58"/>
<polygon points="130.25,171.46 132.61,173.33 132.61,175.73 130.25,173.86" fill="#8e4e58"/>
<polygon points="130.25,171.46 141.64,162.67 144,164.54 132.61,173.33" fill="#f0abb1"/>
<polygon points="157.57,173.53 168.97,164.74 168.97,167.14 157.57,175.93" fill="#91624a"/>
<polygon points="155.21,171.66 157.57,173.53 157.57,175.93 155.21,174.06" fill="#91624a"/>
<polygon points="155.21,171.66 166.6,162.86 168.97,164.74 157.57,173.53" fill="#f6c8a9"/>
<polygon points="182.53,173.73 193.93,164.93 193.93,167.33 182.53,176.13" fill="#91624a"/>
<polygon points="180.17,171.85 182.53,173.73 182.53,176.13 180.17,174.25" fill="#91624a"/>
<polygon points="180.17,171.85 191.56,163.06 193.93,164.93 182.53,173.73" fill="#f6c8a9"/>
<ellipse cx="118.81" cy="175.32" rx="4.85" ry="3.6" fill="#8e4e58"/><rect x="113.96" y="172.92" width="9.7" height="2.4" fill="#8e4e58"/><ellipse cx="118.81" cy="172.92" rx="4.85" ry="3.6" fill="#f0abb1"/><ellipse cx="118.81" cy="172.92" rx="2.75" ry="2.05" fill="#5c3038"/><ellipse clip-path="url(#h07)" cx="118.81" cy="175.32" rx="2.75" ry="2.05" fill="#8be6e6"/>
<ellipse cx="143.77" cy="175.52" rx="4.85" ry="3.6" fill="#8e4e58"/><rect x="138.92" y="173.12" width="9.7" height="2.4" fill="#8e4e58"/><ellipse cx="143.77" cy="173.12" rx="4.85" ry="3.6" fill="#f0abb1"/><ellipse cx="143.77" cy="173.12" rx="2.75" ry="2.05" fill="#5c3038"/><ellipse clip-path="url(#h18)" cx="143.77" cy="175.52" rx="2.75" ry="2.05" fill="#8be6e6"/>
<ellipse cx="168.73" cy="175.72" rx="4.85" ry="3.6" fill="#91624a"/><rect x="163.88" y="173.32" width="9.7" height="2.4" fill="#91624a"/><ellipse cx="168.73" cy="173.32" rx="4.85" ry="3.6" fill="#f6c8a9"/><ellipse cx="168.73" cy="173.32" rx="2.75" ry="2.05" fill="#5e3c2c"/><ellipse clip-path="url(#h29)" cx="168.73" cy="175.72" rx="2.75" ry="2.05" fill="#8be6e6"/>
<polygon points="120.09,182.99 131.48,174.2 131.48,176.6 120.09,185.39" fill="#8e4e58"/>
<polygon points="117.72,181.12 120.09,182.99 120.09,185.39 117.72,183.52" fill="#8e4e58"/>
<polygon points="117.72,181.12 129.12,172.33 131.48,174.2 120.09,182.99" fill="#f0abb1"/>
<polygon points="145.05,183.19 156.44,174.4 156.44,176.8 145.05,185.59" fill="#8e4e58"/>
<polygon points="142.68,181.32 145.05,183.19 145.05,185.59 142.68,183.72" fill="#8e4e58"/>
<polygon points="142.68,181.32 154.08,172.53 156.44,174.4 145.05,183.19" fill="#f0abb1"/>
<polygon points="170.01,183.39 181.4,174.6 181.4,177 170.01,185.79" fill="#91624a"/>
<polygon points="167.64,181.52 170.01,183.39 170.01,185.79 167.64,183.92" fill="#91624a"/>
<polygon points="167.64,181.52 179.04,172.72 181.4,174.6 170.01,183.39" fill="#f6c8a9"/>
<ellipse cx="131.24" cy="185.18" rx="4.85" ry="3.6" fill="#8e4e58"/><rect x="126.39" y="182.78" width="9.7" height="2.4" fill="#8e4e58"/><ellipse cx="131.24" cy="182.78" rx="4.85" ry="3.6" fill="#f0abb1"/><ellipse cx="131.24" cy="182.78" rx="2.75" ry="2.05" fill="#5c3038"/><ellipse clip-path="url(#h08)" cx="131.24" cy="185.18" rx="2.75" ry="2.05" fill="#8be6e6"/>
<ellipse cx="156.2" cy="185.38" rx="4.85" ry="3.6" fill="#8e4e58"/><rect x="151.35" y="182.98" width="9.7" height="2.4" fill="#8e4e58"/><ellipse cx="156.2" cy="182.98" rx="4.85" ry="3.6" fill="#f0abb1"/><ellipse cx="156.2" cy="182.98" rx="2.75" ry="2.05" fill="#5c3038"/><ellipse clip-path="url(#h19)" cx="156.2" cy="185.38" rx="2.75" ry="2.05" fill="#8be6e6"/>
<polygon points="132.52,192.85 143.92,184.06 143.92,186.46 132.52,195.25" fill="#8e4e58"/>
<polygon points="130.16,190.98 132.52,192.85 132.52,195.25 130.16,193.38" fill="#8e4e58"/>
<polygon points="130.16,190.98 141.56,182.19 143.92,184.06 132.52,192.85" fill="#f0abb1"/>
<polygon points="157.48,193.05 168.88,184.26 168.88,186.66 157.48,195.45" fill="#8e4e58"/>
<polygon points="155.12,191.18 157.48,193.05 157.48,195.45 155.12,193.58" fill="#8e4e58"/>
<polygon points="155.12,191.18 166.52,182.39 168.88,184.26 157.48,193.05" fill="#f0abb1"/>
<ellipse cx="143.68" cy="195.04" rx="4.85" ry="3.6" fill="#8e4e58"/><rect x="138.83" y="192.64" width="9.7" height="2.4" fill="#8e4e58"/><ellipse cx="143.68" cy="192.64" rx="4.85" ry="3.6" fill="#f0abb1"/><ellipse cx="143.68" cy="192.64" rx="2.75" ry="2.05" fill="#5c3038"/><ellipse clip-path="url(#h09)" cx="143.68" cy="195.04" rx="2.75" ry="2.05" fill="#8be6e6"/>
<polygon points="144.96,202.71 156.36,193.92 156.36,196.32 144.96,205.11" fill="#8e4e58"/>
<polygon points="142.6,200.84 144.96,202.71 144.96,205.11 142.6,203.24" fill="#8e4e58"/>
<polygon points="142.6,200.84 153.99,192.05 156.36,193.92 144.96,202.71" fill="#f0abb1"/>
<defs><linearGradient id="rb" x1="0" y1="0" x2="1" y2="0"><stop offset="0" stop-color="#ff1010"/><stop offset="0.16" stop-color="#ff2010"/><stop offset="0.2" stop-color="#ffe000"/><stop offset="0.3" stop-color="#f0e000"/><stop offset="0.36" stop-color="#30c030"/><stop offset="0.44" stop-color="#20b060"/><stop offset="0.52" stop-color="#1890e0"/><stop offset="0.8" stop-color="#2060d0"/><stop offset="0.92" stop-color="#6a30c0"/><stop offset="1" stop-color="#7a2ab8"/></linearGradient></defs>
<g transform="translate(45.3,72.5) rotate(-39.01)"><rect x="0" y="-0.9" width="63.34" height="1.8" fill="url(#rb)"/><path d="M57.84,-4.6 L64.34,0 L57.84,4.6" fill="none" stroke="#7a2ab8" stroke-width="1.8" stroke-linejoin="miter"/></g>
<text x="0" y="0" transform="translate(24.3,69.1) rotate(-39.8)" font-family="'Liberation Serif','Times New Roman',serif" font-size="12.5" textLength="87.5" lengthAdjust="spacingAndGlyphs" fill="#111" stroke="#111" stroke-width="0.25">temperature tuning</text>
<text x="0" y="0" transform="translate(20.6,94.6) rotate(-35)" font-family="'Liberation Serif','Times New Roman',serif" font-size="12.5" textLength="21" lengthAdjust="spacingAndGlyphs" fill="#ff2a2a" stroke="#ff2a2a" stroke-width="0.35">high</text>
<text x="0" y="0" transform="translate(107,27.4) rotate(-36)" font-family="'Liberation Serif','Times New Roman',serif" font-size="12.5" font-weight="bold" textLength="16.5" lengthAdjust="spacingAndGlyphs" fill="#1eb2f0">low</text>
<text x="11.4" y="192" font-family="'Liberation Serif','Times New Roman',serif" font-size="13" font-weight="bold" fill="#111">(a)</text>
<rect x="324.0" y="7.3" width="211.4" height="170.1" fill="none" stroke="#3c3c3c" stroke-width="1"/>
<path d="M324.0,164h3 M324.0,149.79h1.8 M324.0,135.58h3 M324.0,121.37h1.8 M324.0,107.16h3 M324.0,92.95h1.8 M324.0,78.74h3 M324.0,64.53h1.8 M324.0,50.32h3 M324.0,36.11h1.8 M324.0,21.9h3 M324,177.4v-3 M350.43,177.4v-1.8 M376.85,177.4v-3 M403.27,177.4v-1.8 M429.7,177.4v-3 M456.12,177.4v-1.8 M482.55,177.4v-3 M508.97,177.4v-1.8 M535.4,177.4v-3" stroke="#3c3c3c" stroke-width="1" fill="none"/>
<path d="M324.00,21.95 L324.62,21.95 L325.70,21.95 L326.79,22.01 L327.89,22.05 L329.00,22.09 L330.11,22.10 L331.23,22.11 L332.36,22.11 L333.50,22.10 L334.64,22.08 L335.79,22.05 L336.95,22.02 L338.10,21.98 L339.27,21.95 L340.43,21.95 L341.60,21.95 L342.77,21.95 L343.94,21.95 L345.12,21.95 L346.29,21.95 L347.47,21.95 L348.64,21.95 L349.82,21.95 L350.99,21.95 L352.16,21.95 L353.33,21.95 L354.49,21.95 L355.66,21.95 L356.82,21.95 L357.97,21.95 L359.12,21.95 L360.26,21.95 L361.40,21.95 L362.53,21.95 L363.65,21.98 L364.77,22.12 L365.88,22.28 L366.97,22.46 L368.06,22.66 L369.14,22.89 L370.21,23.14 L371.27,23.41 L372.32,23.72 L373.35,24.05 L374.37,24.41 L375.38,24.80 L376.38,25.22 L377.36,25.68 L378.33,26.17 L379.28,26.69 L380.22,27.25 L381.14,27.84 L382.04,28.47 L382.93,29.14 L383.80,29.85 L384.65,30.60 L385.48,31.38 L386.29,32.19 L387.09,33.03 L387.86,33.90 L388.62,34.80 L389.36,35.73 L390.07,36.68 L390.77,37.65 L391.44,38.64 L392.10,39.65 L392.73,40.67 L393.34,41.72 L393.93,42.77 L394.50,43.84 L395.05,44.91 L395.57,46.00 L396.07,47.09 L396.55,48.18 L397.00,49.28 L397.43,50.38 L397.83,51.48 L398.21,52.58 L398.58,53.68 L398.92,54.78 L399.24,55.87 L399.54,56.97 L399.83,58.07 L400.10,59.17 L400.36,60.27 L400.61,61.37 L400.84,62.47 L401.06,63.57 L401.28,64.67 L401.48,65.78 L401.68,66.88 L401.88,67.99 L402.07,69.09 L402.25,70.20 L402.44,71.31 L402.62,72.42 L402.80,73.53 L402.99,74.64 L403.18,75.75 L403.37,76.87 L403.56,77.99 L403.75,79.10 L403.94,80.22 L404.13,81.34 L404.33,82.46 L404.53,83.59 L404.72,84.71 L404.92,85.84 L405.12,86.96 L405.32,88.09 L405.51,89.22 L405.71,90.35 L405.91,91.47 L406.11,92.60 L406.31,93.74 L406.51,94.87 L406.71,96.00 L406.90,97.13 L407.10,98.26 L407.30,99.40 L407.49,100.53 L407.68,101.66 L407.88,102.80 L408.07,103.93 L408.26,105.07 L408.45,106.20 L408.63,107.34 L408.82,108.47 L409.00,109.61 L409.18,110.74 L409.36,111.88 L409.54,113.01 L409.72,114.14 L409.89,115.28 L410.06,116.41 L410.22,117.54 L410.39,118.68 L410.55,119.81 L410.71,120.94 L410.86,122.07 L411.01,123.20 L411.16,124.33 L411.30,125.46 L411.45,126.59 L411.58,127.71 L411.72,128.84 L411.84,129.97 L411.97,131.09 L412.09,132.21 L412.21,133.34 L412.34,134.46 L412.46,135.58 L412.58,136.70 L412.71,137.82 L412.84,138.94 L412.98,140.06 L413.12,141.18 L413.27,142.30 L413.43,143.43 L413.59,144.55 L413.77,145.67 L413.96,146.79 L414.16,147.91 L414.38,149.03 L414.61,150.16 L414.86,151.28 L415.12,152.41 L415.40,153.53 L415.70,154.66 L416.02,155.79 L416.37,156.92 L416.73,158.05 L417.14,159.17 L417.59,160.27 L418.11,161.34 L418.71,162.34 L419.36,163.11 L420.03,163.41 L420.71,163.10 L421.36,162.33 L421.98,161.34 L422.56,160.29 L423.09,159.23 L423.59,158.15 L424.05,157.07 L424.48,155.98 L424.88,154.88 L425.26,153.78 L425.62,152.67 L425.94,151.56 L426.25,150.45 L426.54,149.33 L426.81,148.22 L427.06,147.10 L427.29,145.97 L427.52,144.85 L427.72,143.72 L427.92,142.59 L428.11,141.47 L428.28,140.34 L428.46,139.21 L428.62,138.08 L428.78,136.95 L428.94,135.82 L429.10,134.70 L429.26,133.57 L429.42,132.45 L429.59,131.33 L429.76,130.21 L429.94,129.09 L430.12,127.98 L430.32,126.87 L430.52,125.76 L430.72,124.65 L430.94,123.55 L431.16,122.45 L431.39,121.35 L431.63,120.25 L431.87,119.16 L432.12,118.07 L432.38,116.97 L432.64,115.88 L432.91,114.79 L433.19,113.71 L433.47,112.62 L433.76,111.53 L434.06,110.44 L434.36,109.36 L434.66,108.27 L434.97,107.19 L435.29,106.10 L435.61,105.01 L435.94,103.93 L436.27,102.84 L436.61,101.75 L436.96,100.66 L437.30,99.57 L437.66,98.48 L438.01,97.39 L438.37,96.30 L438.74,95.20 L439.11,94.10 L439.48,93.00 L439.86,91.90 L440.24,90.80 L440.63,89.69 L441.02,88.58 L441.41,87.47 L441.81,86.37 L442.22,85.26 L442.63,84.15 L443.05,83.05 L443.48,81.95 L443.92,80.86 L444.37,79.78 L444.83,78.70 L445.31,77.63 L445.79,76.57 L446.29,75.52 L446.80,74.48 L447.33,73.45 L447.87,72.44 L448.43,71.44 L449.01,70.46 L449.60,69.49 L450.21,68.54 L450.84,67.61 L451.49,66.70 L452.16,65.80 L452.84,64.92 L453.54,64.05 L454.25,63.20 L454.99,62.37 L455.73,61.55 L456.50,60.75 L457.28,59.97 L458.07,59.20 L458.88,58.44 L459.70,57.70 L460.54,56.98 L461.39,56.27 L462.25,55.58 L463.13,54.90 L464.02,54.23 L464.92,53.58 L465.84,52.95 L466.77,52.32 L467.70,51.72 L468.65,51.12 L469.62,50.54 L470.59,49.97 L471.57,49.42 L472.56,48.88 L473.56,48.35 L474.57,47.83 L475.60,47.33 L476.63,46.84 L477.66,46.36 L478.71,45.89 L479.76,45.44 L480.83,44.99 L481.90,44.56 L482.97,44.14 L484.06,43.74 L485.15,43.34 L486.24,42.95 L487.34,42.58 L488.45,42.22 L489.56,41.86 L490.68,41.52 L491.80,41.19 L492.93,40.86 L494.06,40.55 L495.19,40.25 L496.33,39.96 L497.47,39.67 L498.61,39.40 L499.76,39.13 L500.91,38.88 L502.06,38.63 L503.21,38.39 L504.36,38.16 L505.52,37.94 L506.67,37.73 L507.83,37.52 L508.98,37.32 L510.14,37.14 L511.29,36.95 L512.44,36.78 L513.59,36.61 L514.74,36.45 L515.89,36.30 L517.04,36.15 L518.18,36.02 L519.33,35.88 L520.46,35.76 L521.60,35.64 L522.73,35.52 L523.86,35.42 L524.98,35.31 L526.10,35.22 L527.22,35.13 L528.33,35.04 L529.43,34.96 L530.53,34.89 L531.62,34.82 L532.70,34.75 L533.78,34.69 L534.86,34.63" fill="none" stroke="#5a5a5a" stroke-width="1.25" stroke-linejoin="round"/>
<path d="M324.00,21.95 L324.58,21.95 L325.60,21.97 L326.63,22.02 L327.68,22.07 L328.74,22.11 L329.81,22.13 L330.88,22.15 L331.97,22.16 L333.07,22.16 L334.17,22.16 L335.29,22.15 L336.41,22.13 L337.54,22.11 L338.68,22.08 L339.82,22.05 L340.97,22.02 L342.12,21.98 L343.28,21.95 L344.44,21.95 L345.61,21.95 L346.78,21.95 L347.96,21.95 L349.13,21.95 L350.31,21.95 L351.49,21.95 L352.67,21.95 L353.86,21.95 L355.04,21.95 L356.22,21.95 L357.41,21.95 L358.59,21.95 L359.77,21.95 L360.94,21.95 L362.12,21.95 L363.29,21.95 L364.46,21.95 L365.62,21.95 L366.78,21.95 L367.94,21.95 L369.09,21.95 L370.23,22.03 L371.37,22.14 L372.50,22.26 L373.62,22.40 L374.74,22.55 L375.85,22.72 L376.95,22.91 L378.04,23.12 L379.12,23.34 L380.19,23.58 L381.25,23.84 L382.30,24.12 L383.34,24.42 L384.36,24.75 L385.37,25.09 L386.37,25.46 L387.36,25.85 L388.33,26.26 L389.29,26.70 L390.24,27.17 L391.17,27.66 L392.08,28.17 L392.98,28.72 L393.86,29.29 L394.72,29.89 L395.57,30.52 L396.39,31.17 L397.20,31.86 L397.99,32.58 L398.76,33.33 L399.51,34.12 L400.25,34.93 L400.96,35.78 L401.65,36.65 L402.32,37.55 L402.97,38.48 L403.61,39.43 L404.23,40.40 L404.83,41.40 L405.41,42.41 L405.97,43.45 L406.52,44.50 L407.05,45.56 L407.56,46.64 L408.06,47.73 L408.54,48.83 L409.01,49.95 L409.46,51.06 L409.90,52.19 L410.32,53.32 L410.73,54.45 L411.12,55.59 L411.50,56.72 L411.87,57.85 L412.22,58.98 L412.56,60.11 L412.89,61.23 L413.20,62.34 L413.51,63.46 L413.80,64.56 L414.08,65.67 L414.36,66.77 L414.62,67.86 L414.87,68.95 L415.12,70.04 L415.35,71.13 L415.58,72.22 L415.80,73.30 L416.02,74.38 L416.23,75.46 L416.43,76.54 L416.62,77.62 L416.81,78.70 L417.00,79.77 L417.18,80.85 L417.36,81.93 L417.53,83.01 L417.71,84.09 L417.87,85.17 L418.04,86.25 L418.21,87.33 L418.37,88.42 L418.54,89.50 L418.70,90.59 L418.87,91.69 L419.03,92.78 L419.20,93.88 L419.36,94.99 L419.53,96.09 L419.71,97.20 L419.88,98.32 L420.05,99.43 L420.23,100.55 L420.41,101.67 L420.58,102.80 L420.76,103.92 L420.94,105.05 L421.12,106.18 L421.30,107.31 L421.48,108.45 L421.66,109.58 L421.84,110.72 L422.03,111.85 L422.21,112.99 L422.39,114.13 L422.57,115.26 L422.75,116.40 L422.93,117.54 L423.11,118.67 L423.29,119.81 L423.46,120.94 L423.64,122.08 L423.81,123.21 L423.99,124.34 L424.16,125.47 L424.33,126.60 L424.50,127.73 L424.67,128.85 L424.83,129.97 L425.00,131.09 L425.16,132.21 L425.32,133.32 L425.49,134.43 L425.65,135.54 L425.82,136.65 L425.99,137.75 L426.16,138.86 L426.34,139.96 L426.52,141.06 L426.70,142.16 L426.89,143.26 L427.09,144.35 L427.30,145.45 L427.51,146.54 L427.74,147.63 L427.97,148.73 L428.21,149.82 L428.46,150.91 L428.73,152.00 L429.01,153.09 L429.30,154.17 L429.60,155.26 L429.92,156.35 L430.25,157.44 L430.61,158.53 L431.00,159.63 L431.44,160.74 L431.95,161.87 L432.53,162.81 L433.18,163.17 L433.89,162.72 L434.59,161.75 L435.21,160.65 L435.72,159.57 L436.17,158.50 L436.56,157.44 L436.93,156.38 L437.29,155.31 L437.64,154.25 L437.99,153.18 L438.32,152.11 L438.65,151.03 L438.97,149.95 L439.29,148.87 L439.60,147.79 L439.90,146.71 L440.20,145.62 L440.49,144.53 L440.78,143.44 L441.06,142.35 L441.34,141.25 L441.61,140.16 L441.88,139.06 L442.15,137.96 L442.41,136.86 L442.67,135.76 L442.92,134.66 L443.18,133.55 L443.43,132.45 L443.68,131.34 L443.93,130.24 L444.17,129.13 L444.42,128.02 L444.66,126.91 L444.91,125.81 L445.15,124.70 L445.40,123.59 L445.64,122.48 L445.89,121.37 L446.13,120.27 L446.38,119.16 L446.63,118.05 L446.88,116.95 L447.14,115.84 L447.39,114.74 L447.65,113.64 L447.91,112.53 L448.18,111.43 L448.45,110.33 L448.72,109.23 L449.00,108.14 L449.28,107.04 L449.57,105.95 L449.86,104.86 L450.16,103.77 L450.46,102.68 L450.77,101.60 L451.09,100.51 L451.41,99.43 L451.74,98.35 L452.08,97.28 L452.42,96.20 L452.78,95.13 L453.14,94.07 L453.50,93.00 L453.88,91.94 L454.27,90.89 L454.67,89.83 L455.07,88.78 L455.49,87.73 L455.91,86.69 L456.35,85.65 L456.80,84.61 L457.25,83.58 L457.72,82.55 L458.21,81.53 L458.70,80.51 L459.21,79.50 L459.72,78.49 L460.25,77.49 L460.80,76.49 L461.35,75.50 L461.92,74.51 L462.50,73.54 L463.09,72.57 L463.69,71.60 L464.31,70.65 L464.94,69.71 L465.59,68.78 L466.24,67.85 L466.91,66.94 L467.59,66.04 L468.28,65.15 L468.99,64.27 L469.71,63.40 L470.44,62.54 L471.19,61.70 L471.95,60.88 L472.72,60.06 L473.51,59.26 L474.30,58.48 L475.12,57.71 L475.94,56.96 L476.78,56.22 L477.63,55.50 L478.50,54.79 L479.38,54.11 L480.27,53.44 L481.18,52.79 L482.10,52.16 L483.03,51.54 L483.97,50.95 L484.93,50.37 L485.90,49.80 L486.88,49.25 L487.87,48.72 L488.86,48.21 L489.87,47.71 L490.89,47.22 L491.92,46.75 L492.96,46.29 L494.00,45.85 L495.06,45.42 L496.12,45.00 L497.18,44.60 L498.26,44.21 L499.34,43.83 L500.43,43.47 L501.52,43.12 L502.61,42.77 L503.72,42.44 L504.82,42.12 L505.93,41.81 L507.05,41.51 L508.16,41.23 L509.28,40.95 L510.40,40.68 L511.53,40.42 L512.65,40.16 L513.78,39.92 L514.90,39.68 L516.03,39.46 L517.16,39.24 L518.29,39.02 L519.41,38.82 L520.54,38.62 L521.66,38.42 L522.78,38.23 L523.90,38.05 L525.01,37.87 L526.13,37.70 L527.24,37.54 L528.34,37.37 L529.44,37.21 L530.54,37.06 L531.63,36.91 L532.71,36.76 L533.79,36.61 L534.86,36.47" fill="none" stroke="#ff4a4a" stroke-width="1.25" stroke-linejoin="round"/>
<path d="M324.00,21.95 L324.58,21.95 L325.65,22.05 L326.74,22.16 L327.82,22.26 L328.91,22.35 L330.01,22.42 L331.10,22.48 L332.21,22.53 L333.31,22.57 L334.42,22.60 L335.53,22.62 L336.65,22.63 L337.77,22.63 L338.89,22.63 L340.01,22.62 L341.14,22.60 L342.26,22.58 L343.39,22.55 L344.53,22.51 L345.66,22.47 L346.80,22.43 L347.94,22.39 L349.07,22.34 L350.21,22.29 L351.35,22.24 L352.50,22.19 L353.64,22.14 L354.78,22.08 L355.93,22.03 L357.07,21.98 L358.21,21.95 L359.36,21.95 L360.50,21.95 L361.64,21.95 L362.79,21.95 L363.93,21.95 L365.07,21.95 L366.21,21.95 L367.35,21.95 L368.48,21.95 L369.62,21.95 L370.75,21.95 L371.88,21.95 L373.01,21.95 L374.14,21.95 L375.27,21.95 L376.39,21.95 L377.51,21.96 L378.62,22.04 L379.74,22.13 L380.85,22.24 L381.96,22.36 L383.06,22.50 L384.16,22.65 L385.26,22.81 L386.35,23.00 L387.44,23.19 L388.52,23.41 L389.60,23.64 L390.68,23.89 L391.75,24.16 L392.81,24.45 L393.87,24.76 L394.93,25.09 L395.98,25.44 L397.02,25.81 L398.06,26.20 L399.09,26.62 L400.11,27.06 L401.13,27.52 L402.14,28.01 L403.15,28.52 L404.14,29.05 L405.11,29.61 L406.08,30.18 L407.02,30.79 L407.96,31.41 L408.87,32.06 L409.76,32.73 L410.64,33.42 L411.49,34.14 L412.31,34.88 L413.11,35.64 L413.89,36.42 L414.63,37.23 L415.35,38.06 L416.04,38.91 L416.69,39.78 L417.32,40.68 L417.91,41.59 L418.48,42.53 L419.02,43.48 L419.53,44.45 L420.02,45.44 L420.49,46.44 L420.94,47.46 L421.36,48.49 L421.76,49.53 L422.15,50.58 L422.51,51.65 L422.87,52.73 L423.20,53.81 L423.52,54.90 L423.83,56.00 L424.13,57.11 L424.42,58.22 L424.70,59.34 L424.97,60.46 L425.23,61.58 L425.49,62.70 L425.74,63.83 L425.99,64.95 L426.24,66.08 L426.49,67.20 L426.74,68.31 L426.98,69.43 L427.23,70.54 L427.48,71.65 L427.73,72.76 L427.97,73.86 L428.22,74.96 L428.46,76.06 L428.71,77.16 L428.96,78.25 L429.20,79.35 L429.44,80.44 L429.68,81.53 L429.92,82.62 L430.16,83.71 L430.40,84.79 L430.64,85.88 L430.87,86.96 L431.11,88.05 L431.34,89.13 L431.57,90.21 L431.79,91.29 L432.02,92.37 L432.24,93.45 L432.46,94.54 L432.68,95.62 L432.89,96.70 L433.11,97.78 L433.32,98.86 L433.52,99.95 L433.72,101.03 L433.92,102.11 L434.12,103.20 L434.31,104.29 L434.50,105.37 L434.69,106.46 L434.87,107.55 L435.05,108.65 L435.22,109.74 L435.39,110.84 L435.56,111.93 L435.72,113.03 L435.88,114.13 L436.04,115.23 L436.20,116.34 L436.35,117.44 L436.50,118.55 L436.66,119.65 L436.81,120.76 L436.96,121.87 L437.10,122.98 L437.25,124.09 L437.40,125.21 L437.55,126.32 L437.70,127.43 L437.86,128.55 L438.01,129.67 L438.16,130.78 L438.32,131.90 L438.48,133.02 L438.64,134.14 L438.80,135.25 L438.97,136.37 L439.14,137.49 L439.32,138.61 L439.50,139.73 L439.68,140.85 L439.87,141.98 L440.06,143.10 L440.26,144.22 L440.46,145.34 L440.67,146.46 L440.89,147.58 L441.11,148.70 L441.34,149.82 L441.58,150.94 L441.82,152.06 L442.07,153.18 L442.35,154.29 L442.65,155.40 L442.98,156.49 L443.34,157.56 L443.76,158.62 L444.22,159.66 L444.75,160.67 L445.33,161.65 L445.98,162.45 L446.66,162.73 L447.36,162.32 L448.02,161.48 L448.63,160.50 L449.17,159.50 L449.66,158.47 L450.10,157.41 L450.49,156.33 L450.86,155.24 L451.19,154.14 L451.51,153.03 L451.81,151.91 L452.10,150.79 L452.40,149.68 L452.69,148.57 L452.98,147.47 L453.27,146.36 L453.55,145.26 L453.84,144.16 L454.12,143.06 L454.41,141.97 L454.69,140.87 L454.97,139.78 L455.25,138.69 L455.53,137.61 L455.81,136.52 L456.09,135.44 L456.37,134.36 L456.65,133.28 L456.93,132.20 L457.21,131.12 L457.49,130.04 L457.77,128.97 L458.05,127.90 L458.33,126.82 L458.61,125.75 L458.90,124.68 L459.18,123.61 L459.47,122.54 L459.75,121.48 L460.04,120.41 L460.33,119.34 L460.62,118.28 L460.92,117.21 L461.21,116.15 L461.51,115.08 L461.81,114.02 L462.12,112.95 L462.42,111.89 L462.73,110.82 L463.04,109.76 L463.35,108.70 L463.67,107.63 L463.99,106.56 L464.32,105.50 L464.64,104.43 L464.97,103.37 L465.31,102.30 L465.64,101.23 L465.99,100.16 L466.33,99.09 L466.68,98.02 L467.04,96.95 L467.40,95.88 L467.76,94.80 L468.13,93.73 L468.50,92.65 L468.88,91.58 L469.27,90.50 L469.66,89.42 L470.06,88.35 L470.46,87.28 L470.87,86.21 L471.29,85.14 L471.72,84.08 L472.16,83.02 L472.60,81.96 L473.06,80.91 L473.52,79.87 L473.99,78.83 L474.48,77.80 L474.97,76.77 L475.48,75.75 L475.99,74.74 L476.52,73.74 L477.06,72.75 L477.62,71.77 L478.18,70.80 L478.76,69.84 L479.36,68.89 L479.96,67.96 L480.58,67.03 L481.22,66.12 L481.87,65.23 L482.54,64.34 L483.22,63.48 L483.92,62.62 L484.63,61.79 L485.37,60.97 L486.12,60.16 L486.88,59.38 L487.67,58.61 L488.47,57.86 L489.29,57.12 L490.13,56.41 L490.98,55.71 L491.85,55.03 L492.74,54.37 L493.64,53.72 L494.55,53.09 L495.48,52.48 L496.42,51.88 L497.38,51.30 L498.34,50.73 L499.32,50.18 L500.31,49.65 L501.31,49.13 L502.32,48.63 L503.34,48.14 L504.37,47.67 L505.41,47.21 L506.46,46.76 L507.51,46.33 L508.57,45.92 L509.64,45.51 L510.71,45.13 L511.79,44.75 L512.88,44.39 L513.97,44.04 L515.06,43.70 L516.16,43.38 L517.26,43.07 L518.36,42.77 L519.46,42.49 L520.57,42.21 L521.68,41.95 L522.79,41.70 L523.89,41.46 L525.00,41.24 L526.11,41.02 L527.21,40.81 L528.32,40.62 L529.42,40.44 L530.51,40.26 L531.61,40.10 L532.70,39.94 L533.78,39.80 L534.86,39.67" fill="none" stroke="#1f7fef" stroke-width="1.25" stroke-linejoin="round"/>
<path d="M324.00,21.95 L324.69,21.95 L325.88,21.95 L327.06,21.95 L328.23,21.95 L329.39,21.95 L330.55,21.95 L331.71,21.95 L332.86,21.95 L334.00,21.95 L335.14,21.95 L336.27,21.95 L337.40,21.95 L338.53,21.95 L339.65,21.95 L340.76,21.95 L341.88,21.95 L342.98,21.95 L344.09,21.95 L345.19,21.95 L346.29,21.95 L347.39,21.95 L348.49,21.95 L349.58,21.95 L350.67,21.95 L351.76,21.95 L352.85,21.95 L353.94,21.95 L355.02,21.95 L356.11,21.95 L357.19,21.95 L358.28,21.95 L359.36,21.95 L360.44,21.95 L361.53,21.95 L362.61,21.95 L363.70,21.95 L364.79,21.95 L365.87,21.95 L366.96,21.95 L368.06,21.95 L369.15,21.95 L370.24,21.99 L371.34,22.03 L372.44,22.07 L373.55,22.11 L374.65,22.14 L375.76,22.18 L376.88,22.21 L377.99,22.25 L379.11,22.28 L380.24,22.31 L381.37,22.34 L382.50,22.37 L383.64,22.39 L384.79,22.42 L385.94,22.44 L387.09,22.46 L388.25,22.48 L389.41,22.50 L390.57,22.53 L391.73,22.56 L392.89,22.60 L394.05,22.65 L395.20,22.71 L396.35,22.79 L397.50,22.88 L398.64,22.98 L399.77,23.10 L400.90,23.24 L402.02,23.40 L403.12,23.59 L404.22,23.80 L405.30,24.03 L406.36,24.29 L407.42,24.58 L408.46,24.91 L409.48,25.26 L410.48,25.65 L411.47,26.08 L412.44,26.53 L413.39,27.02 L414.32,27.54 L415.24,28.09 L416.14,28.67 L417.02,29.28 L417.88,29.91 L418.73,30.57 L419.56,31.26 L420.38,31.97 L421.18,32.71 L421.96,33.47 L422.72,34.25 L423.47,35.06 L424.20,35.88 L424.92,36.72 L425.62,37.59 L426.30,38.47 L426.97,39.36 L427.62,40.28 L428.26,41.20 L428.88,42.15 L429.49,43.10 L430.08,44.07 L430.65,45.05 L431.22,46.04 L431.76,47.04 L432.29,48.05 L432.81,49.07 L433.31,50.09 L433.79,51.13 L434.26,52.16 L434.72,53.20 L435.16,54.25 L435.59,55.30 L436.00,56.35 L436.40,57.40 L436.79,58.45 L437.17,59.51 L437.53,60.57 L437.88,61.63 L438.22,62.69 L438.55,63.75 L438.87,64.82 L439.18,65.88 L439.48,66.95 L439.77,68.02 L440.05,69.09 L440.32,70.17 L440.59,71.24 L440.85,72.32 L441.11,73.40 L441.35,74.48 L441.60,75.56 L441.84,76.64 L442.07,77.73 L442.30,78.81 L442.52,79.90 L442.75,80.99 L442.97,82.08 L443.19,83.17 L443.40,84.26 L443.62,85.35 L443.84,86.44 L444.05,87.54 L444.27,88.64 L444.49,89.73 L444.70,90.83 L444.92,91.93 L445.15,93.03 L445.37,94.13 L445.59,95.23 L445.82,96.33 L446.04,97.44 L446.27,98.54 L446.49,99.65 L446.72,100.75 L446.94,101.85 L447.17,102.96 L447.39,104.06 L447.61,105.17 L447.82,106.28 L448.04,107.38 L448.25,108.49 L448.46,109.59 L448.67,110.70 L448.87,111.80 L449.07,112.91 L449.26,114.01 L449.45,115.12 L449.64,116.22 L449.82,117.32 L449.99,118.43 L450.16,119.53 L450.32,120.63 L450.48,121.73 L450.63,122.83 L450.77,123.93 L450.91,125.03 L451.03,126.13 L451.15,127.22 L451.26,128.32 L451.37,129.41 L451.46,130.50 L451.56,131.60 L451.65,132.69 L451.74,133.78 L451.83,134.87 L451.92,135.96 L452.01,137.05 L452.11,138.15 L452.21,139.24 L452.32,140.33 L452.44,141.43 L452.57,142.52 L452.71,143.62 L452.87,144.72 L453.03,145.82 L453.22,146.92 L453.42,148.02 L453.64,149.13 L453.88,150.24 L454.14,151.35 L454.43,152.46 L454.74,153.58 L455.07,154.70 L455.44,155.82 L455.83,156.95 L456.26,158.07 L456.75,159.14 L457.34,160.11 L458.07,160.91 L458.97,161.51 L459.97,161.82 L460.91,161.81 L461.71,161.46 L462.39,160.84 L462.98,160.00 L463.48,159.01 L463.94,157.91 L464.37,156.78 L464.78,155.64 L465.18,154.51 L465.57,153.39 L465.95,152.27 L466.31,151.15 L466.67,150.04 L467.02,148.94 L467.36,147.83 L467.69,146.74 L468.01,145.64 L468.33,144.55 L468.63,143.47 L468.93,142.38 L469.22,141.30 L469.51,140.22 L469.79,139.15 L470.06,138.08 L470.33,137.01 L470.59,135.94 L470.85,134.87 L471.11,133.81 L471.36,132.75 L471.60,131.68 L471.85,130.62 L472.09,129.56 L472.33,128.51 L472.57,127.45 L472.81,126.39 L473.04,125.33 L473.28,124.28 L473.51,123.22 L473.75,122.16 L473.98,121.10 L474.22,120.04 L474.46,118.98 L474.70,117.92 L474.94,116.86 L475.19,115.79 L475.43,114.73 L475.68,113.66 L475.94,112.59 L476.20,111.51 L476.46,110.44 L476.73,109.36 L477.00,108.28 L477.28,107.20 L477.57,106.11 L477.86,105.02 L478.16,103.93 L478.46,102.84 L478.77,101.75 L479.08,100.66 L479.41,99.56 L479.73,98.47 L480.07,97.38 L480.41,96.29 L480.76,95.20 L481.12,94.11 L481.49,93.02 L481.86,91.94 L482.24,90.85 L482.63,89.78 L483.02,88.70 L483.43,87.63 L483.84,86.56 L484.27,85.50 L484.70,84.44 L485.14,83.39 L485.58,82.34 L486.04,81.30 L486.51,80.26 L486.99,79.24 L487.47,78.21 L487.97,77.20 L488.47,76.19 L488.99,75.20 L489.52,74.21 L490.05,73.22 L490.60,72.25 L491.16,71.29 L491.73,70.34 L492.31,69.40 L492.90,68.47 L493.50,67.55 L494.12,66.64 L494.74,65.74 L495.38,64.85 L496.03,63.98 L496.69,63.12 L497.36,62.28 L498.05,61.44 L498.75,60.62 L499.46,59.82 L500.18,59.03 L500.92,58.25 L501.67,57.49 L502.43,56.75 L503.21,56.02 L504.00,55.31 L504.80,54.62 L505.62,53.94 L506.45,53.28 L507.30,52.64 L508.16,52.01 L509.04,51.41 L509.93,50.82 L510.83,50.26 L511.75,49.71 L512.68,49.18 L513.63,48.67 L514.60,48.19 L515.58,47.72 L516.58,47.28 L517.59,46.86 L518.62,46.46 L519.66,46.09 L520.72,45.73 L521.80,45.40 L522.89,45.10 L524.00,44.82 L525.13,44.56 L526.28,44.33 L527.44,44.12 L528.62,43.94 L529.81,43.78 L531.03,43.65 L532.26,43.55 L533.51,43.47 L534.78,43.42" fill="none" stroke="#14b27a" stroke-width="1.25" stroke-linejoin="round"/>
<text x="320.3" y="168" text-anchor="end" font-family="'Liberation Serif','Times New Roman',serif" font-size="12" textLength="17.5" lengthAdjust="spacingAndGlyphs" fill="#111" stroke="#111" stroke-width="0.25">0. 0</text>
<text x="320.3" y="139.58" text-anchor="end" font-family="'Liberation Serif','Times New Roman',serif" font-size="12" textLength="17.5" lengthAdjust="spacingAndGlyphs" fill="#111" stroke="#111" stroke-width="0.25">0. 2</text>
<text x="320.3" y="111.16" text-anchor="end" font-family="'Liberation Serif','Times New Roman',serif" font-size="12" textLength="17.5" lengthAdjust="spacingAndGlyphs" fill="#111" stroke="#111" stroke-width="0.25">0. 4</text>
<text x="320.3" y="82.74" text-anchor="end" font-family="'Liberation Serif','Times New Roman',serif" font-size="12" textLength="17.5" lengthAdjust="spacingAndGlyphs" fill="#111" stroke="#111" stroke-width="0.25">0. 6</text>
<text x="320.3" y="54.32" text-anchor="end" font-family="'Liberation Serif','Times New Roman',serif" font-size="12" textLength="17.5" lengthAdjust="spacingAndGlyphs" fill="#111" stroke="#111" stroke-width="0.25">0. 8</text>
<text x="320.3" y="25.9" text-anchor="end" font-family="'Liberation Serif','Times New Roman',serif" font-size="12" textLength="17.5" lengthAdjust="spacingAndGlyphs" fill="#111" stroke="#111" stroke-width="0.25">1. 0</text>
<text x="324" y="191.4" text-anchor="middle" font-family="'Liberation Serif','Times New Roman',serif" font-size="12" textLength="20.8" lengthAdjust="spacingAndGlyphs" fill="#111" stroke="#111" stroke-width="0.25">1540</text>
<text x="376.85" y="191.4" text-anchor="middle" font-family="'Liberation Serif','Times New Roman',serif" font-size="12" textLength="20.8" lengthAdjust="spacingAndGlyphs" fill="#111" stroke="#111" stroke-width="0.25">1545</text>
<text x="429.7" y="191.4" text-anchor="middle" font-family="'Liberation Serif','Times New Roman',serif" font-size="12" textLength="20.8" lengthAdjust="spacingAndGlyphs" fill="#111" stroke="#111" stroke-width="0.25">1550</text>
<text x="482.55" y="191.4" text-anchor="middle" font-family="'Liberation Serif','Times New Roman',serif" font-size="12" textLength="20.8" lengthAdjust="spacingAndGlyphs" fill="#111" stroke="#111" stroke-width="0.25">1555</text>
<text x="535.4" y="191.4" text-anchor="middle" font-family="'Liberation Serif','Times New Roman',serif" font-size="12" textLength="20.8" lengthAdjust="spacingAndGlyphs" fill="#111" stroke="#111" stroke-width="0.25">1560</text>
<line x1="342.1" y1="119" x2="363.4" y2="119" stroke="#5a5a5a" stroke-width="1.4"/>
<text x="368.7" y="122.4" font-family="'Liberation Serif','Times New Roman',serif" font-size="10.5" textLength="20.5" lengthAdjust="spacingAndGlyphs" fill="#111" stroke="#111" stroke-width="0.2">300K</text>
<line x1="342.1" y1="130.4" x2="363.4" y2="130.4" stroke="#ff4a4a" stroke-width="1.4"/>
<text x="368.7" y="133.8" font-family="'Liberation Serif','Times New Roman',serif" font-size="10.5" textLength="20.5" lengthAdjust="spacingAndGlyphs" fill="#111" stroke="#111" stroke-width="0.2">400K</text>
<line x1="342.1" y1="141.7" x2="363.4" y2="141.7" stroke="#1f7fef" stroke-width="1.4"/>
<text x="368.7" y="145.1" font-family="'Liberation Serif','Times New Roman',serif" font-size="10.5" textLength="20.5" lengthAdjust="spacingAndGlyphs" fill="#111" stroke="#111" stroke-width="0.2">500K</text>
<line x1="342.1" y1="153.1" x2="363.4" y2="153.1" stroke="#14b27a" stroke-width="1.4"/>
<text x="368.7" y="156.5" font-family="'Liberation Serif','Times New Roman',serif" font-size="10.5" textLength="20.5" lengthAdjust="spacingAndGlyphs" fill="#111" stroke="#111" stroke-width="0.2">600K</text>
<text x="427.3" y="21.6" font-family="'Liberation Serif','Times New Roman',serif" font-size="14.2" font-weight="bold" textLength="73.8" lengthAdjust="spacingAndGlyphs" fill="#111">Temperature</text>
<line x1="431.6" y1="31.6" x2="498.5" y2="31.6" stroke="#1a66cc" stroke-width="2.2"/><path d="M490.9,27.4 L499.1,31.6 L490.9,35.8" fill="none" stroke="#1a66cc" stroke-width="2.2"/>
<text transform="translate(293.2,86) rotate(-90)" text-anchor="middle" font-family="'Liberation Serif','Times New Roman',serif" font-size="11.4" font-weight="bold" textLength="125.3" lengthAdjust="spacingAndGlyphs" fill="#111">Normalized transmittance</text>
<text x="429.7" y="207.3" text-anchor="middle" font-family="'Liberation Serif','Times New Roman',serif" font-size="11.8" font-weight="bold" textLength="79.5" lengthAdjust="spacingAndGlyphs" fill="#111">Wavelength(nm)</text>
<text x="280" y="192" font-family="'Liberation Serif','Times New Roman',serif" font-size="13" font-weight="bold" fill="#111">(b)</text>
<line x1="66.7" y1="233.89" x2="252.2" y2="370.93" stroke="#a020f0" stroke-width="1.3"/>
<rect x="51.3" y="216.5" width="216.7" height="174.4" fill="none" stroke="#3c3c3c" stroke-width="1"/>
<path d="M51.3,390.9h3 M51.3,379.31h1.8 M51.3,367.73h3 M51.3,356.14h1.8 M51.3,344.56h3 M51.3,332.97h1.8 M51.3,321.39h3 M51.3,309.8h1.8 M51.3,298.21h3 M51.3,286.63h1.8 M51.3,275.04h3 M51.3,263.46h1.8 M51.3,251.87h3 M51.3,240.29h1.8 M51.3,228.7h3 M66.7,390.9v-3 M82.16,390.9v-1.8 M97.62,390.9v-3 M113.08,390.9v-1.8 M128.53,390.9v-3 M143.99,390.9v-1.8 M159.45,390.9v-3 M174.91,390.9v-1.8 M190.37,390.9v-3 M205.82,390.9v-1.8 M221.28,390.9v-3 M236.74,390.9v-1.8 M252.2,390.9v-3" stroke="#3c3c3c" stroke-width="1" fill="none"/>
<text x="47.2" y="395.4" text-anchor="end" font-family="'Liberation Serif','Times New Roman',serif" font-size="12.5" textLength="22.9" lengthAdjust="spacingAndGlyphs" fill="#111" stroke="#111" stroke-width="0.25">1. 80</text>
<text x="47.2" y="372.23" text-anchor="end" font-family="'Liberation Serif','Times New Roman',serif" font-size="12.5" textLength="22.9" lengthAdjust="spacingAndGlyphs" fill="#111" stroke="#111" stroke-width="0.25">1. 85</text>
<text x="47.2" y="349.06" text-anchor="end" font-family="'Liberation Serif','Times New Roman',serif" font-size="12.5" textLength="22.9" lengthAdjust="spacingAndGlyphs" fill="#111" stroke="#111" stroke-width="0.25">1. 90</text>
<text x="47.2" y="325.89" text-anchor="end" font-family="'Liberation Serif','Times New Roman',serif" font-size="12.5" textLength="22.9" lengthAdjust="spacingAndGlyphs" fill="#111" stroke="#111" stroke-width="0.25">1. 95</text>
<text x="47.2" y="302.71" text-anchor="end" font-family="'Liberation Serif','Times New Roman',serif" font-size="12.5" textLength="22.9" lengthAdjust="spacingAndGlyphs" fill="#111" stroke="#111" stroke-width="0.25">2. 00</text>
<text x="47.2" y="279.54" text-anchor="end" font-family="'Liberation Serif','Times New Roman',serif" font-size="12.5" textLength="22.9" lengthAdjust="spacingAndGlyphs" fill="#111" stroke="#111" stroke-width="0.25">2. 05</text>
<text x="47.2" y="256.37" text-anchor="end" font-family="'Liberation Serif','Times New Roman',serif" font-size="12.5" textLength="22.9" lengthAdjust="spacingAndGlyphs" fill="#111" stroke="#111" stroke-width="0.25">2. 10</text>
<text x="47.2" y="233.2" text-anchor="end" font-family="'Liberation Serif','Times New Roman',serif" font-size="12.5" textLength="22.9" lengthAdjust="spacingAndGlyphs" fill="#111" stroke="#111" stroke-width="0.25">2. 15</text>
<text x="66.7" y="404.8" text-anchor="middle" font-family="'Liberation Serif','Times New Roman',serif" font-size="12.5" textLength="17.5" lengthAdjust="spacingAndGlyphs" fill="#111" stroke="#111" stroke-width="0.25">300</text>
<text x="97.62" y="404.8" text-anchor="middle" font-family="'Liberation Serif','Times New Roman',serif" font-size="12.5" textLength="17.5" lengthAdjust="spacingAndGlyphs" fill="#111" stroke="#111" stroke-width="0.25">350</text>
<text x="128.53" y="404.8" text-anchor="middle" font-family="'Liberation Serif','Times New Roman',serif" font-size="12.5" textLength="17.5" lengthAdjust="spacingAndGlyphs" fill="#111" stroke="#111" stroke-width="0.25">400</text>
<text x="159.45" y="404.8" text-anchor="middle" font-family="'Liberation Serif','Times New Roman',serif" font-size="12.5" textLength="17.5" lengthAdjust="spacingAndGlyphs" fill="#111" stroke="#111" stroke-width="0.25">450</text>
<text x="190.37" y="404.8" text-anchor="middle" font-family="'Liberation Serif','Times New Roman',serif" font-size="12.5" textLength="17.5" lengthAdjust="spacingAndGlyphs" fill="#111" stroke="#111" stroke-width="0.25">500</text>
<text x="221.28" y="404.8" text-anchor="middle" font-family="'Liberation Serif','Times New Roman',serif" font-size="12.5" textLength="17.5" lengthAdjust="spacingAndGlyphs" fill="#111" stroke="#111" stroke-width="0.25">550</text>
<text x="252.2" y="404.8" text-anchor="middle" font-family="'Liberation Serif','Times New Roman',serif" font-size="12.5" textLength="17.5" lengthAdjust="spacingAndGlyphs" fill="#111" stroke="#111" stroke-width="0.25">600</text>
<line x1="136.6" y1="232.4" x2="161.7" y2="232.4" stroke="#a020f0" stroke-width="1.3"/>
<text x="167" y="235.9" font-family="'Liberation Serif','Times New Roman',serif" font-size="10.6" font-weight="bold" textLength="83" lengthAdjust="spacingAndGlyphs" fill="#111">thermooptic effect</text>
<text x="159.6" y="420.6" text-anchor="middle" font-family="'Liberation Serif','Times New Roman',serif" font-size="11.9" font-weight="bold" textLength="80.8" lengthAdjust="spacingAndGlyphs" fill="#111">Temperature(K)</text>
<text transform="translate(14.1,299.5) rotate(-90)" text-anchor="middle" font-family="'Liberation Serif','Times New Roman',serif" font-size="12" font-weight="bold" textLength="26.8" lengthAdjust="spacingAndGlyphs" fill="#111">Index</text>
<text x="11.4" y="411.8" font-family="'Liberation Serif','Times New Roman',serif" font-size="13" font-weight="bold" fill="#111">(c)</text>
<polyline points="340.4,357.06 400.8,322.76 461.2,285.91 521.6,251.32" fill="none" stroke="#f7a35e" stroke-width="1.2"/>
<rect x="338.5" y="355.16" width="3.8" height="3.8" fill="#f5994e"/>
<rect x="398.9" y="320.86" width="3.8" height="3.8" fill="#f5994e"/>
<rect x="459.3" y="284.01" width="3.8" height="3.8" fill="#f5994e"/>
<rect x="519.7" y="249.42" width="3.8" height="3.8" fill="#f5994e"/>
<rect x="325.3" y="219" width="211.4" height="170.1" fill="none" stroke="#3c3c3c" stroke-width="1"/>
<path d="M325.3,374.93h1.8 M325.3,360.75h3 M325.3,346.58h1.8 M325.3,332.4h3 M325.3,318.23h1.8 M325.3,304.05h3 M325.3,289.88h1.8 M325.3,275.7h3 M325.3,261.53h1.8 M325.3,247.35h3 M325.3,233.17h1.8 M340.4,389.1v-3 M370.6,389.1v-1.8 M400.8,389.1v-3 M431,389.1v-1.8 M461.2,389.1v-3 M491.4,389.1v-1.8 M521.6,389.1v-3" stroke="#3c3c3c" stroke-width="1" fill="none"/>
<text x="320.8" y="394.5" text-anchor="end" font-family="'Liberation Serif','Times New Roman',serif" font-size="12" textLength="21.6" lengthAdjust="spacingAndGlyphs" fill="#111" stroke="#111" stroke-width="0.25">1548</text>
<text x="320.8" y="366.15" text-anchor="end" font-family="'Liberation Serif','Times New Roman',serif" font-size="12" textLength="21.6" lengthAdjust="spacingAndGlyphs" fill="#111" stroke="#111" stroke-width="0.25">1549</text>
<text x="320.8" y="337.8" text-anchor="end" font-family="'Liberation Serif','Times New Roman',serif" font-size="12" textLength="21.6" lengthAdjust="spacingAndGlyphs" fill="#111" stroke="#111" stroke-width="0.25">1550</text>
<text x="320.8" y="309.45" text-anchor="end" font-family="'Liberation Serif','Times New Roman',serif" font-size="12" textLength="21.6" lengthAdjust="spacingAndGlyphs" fill="#111" stroke="#111" stroke-width="0.25">1551</text>
<text x="320.8" y="281.1" text-anchor="end" font-family="'Liberation Serif','Times New Roman',serif" font-size="12" textLength="21.6" lengthAdjust="spacingAndGlyphs" fill="#111" stroke="#111" stroke-width="0.25">1552</text>
<text x="320.8" y="252.75" text-anchor="end" font-family="'Liberation Serif','Times New Roman',serif" font-size="12" textLength="21.6" lengthAdjust="spacingAndGlyphs" fill="#111" stroke="#111" stroke-width="0.25">1553</text>
<text x="320.8" y="224.4" text-anchor="end" font-family="'Liberation Serif','Times New Roman',serif" font-size="12" textLength="21.6" lengthAdjust="spacingAndGlyphs" fill="#111" stroke="#111" stroke-width="0.25">1554</text>
<text x="340.4" y="403.4" text-anchor="middle" font-family="'Liberation Serif','Times New Roman',serif" font-size="12.5" textLength="17.4" lengthAdjust="spacingAndGlyphs" fill="#111" stroke="#111" stroke-width="0.25">300</text>
<text x="400.8" y="403.4" text-anchor="middle" font-family="'Liberation Serif','Times New Roman',serif" font-size="12.5" textLength="17.4" lengthAdjust="spacingAndGlyphs" fill="#111" stroke="#111" stroke-width="0.25">400</text>
<text x="461.2" y="403.4" text-anchor="middle" font-family="'Liberation Serif','Times New Roman',serif" font-size="12.5" textLength="17.4" lengthAdjust="spacingAndGlyphs" fill="#111" stroke="#111" stroke-width="0.25">500</text>
<text x="521.6" y="403.4" text-anchor="middle" font-family="'Liberation Serif','Times New Roman',serif" font-size="12.5" textLength="17.4" lengthAdjust="spacingAndGlyphs" fill="#111" stroke="#111" stroke-width="0.25">600</text>
<text x="430.8" y="418.5" text-anchor="middle" font-family="'Liberation Serif','Times New Roman',serif" font-size="11.9" font-weight="bold" textLength="80.8" lengthAdjust="spacingAndGlyphs" fill="#111">Temperature(K)</text>
<text transform="translate(294.4,303.8) rotate(-90)" text-anchor="middle" font-family="'Liberation Serif','Times New Roman',serif" font-size="11.9" font-weight="bold" textLength="80" lengthAdjust="spacingAndGlyphs" fill="#111">Wavelength(nm)</text>
<text x="278.6" y="410.8" font-family="'Liberation Serif','Times New Roman',serif" font-size="13" font-weight="bold" fill="#111">(d)</text>
</svg></body></html>
